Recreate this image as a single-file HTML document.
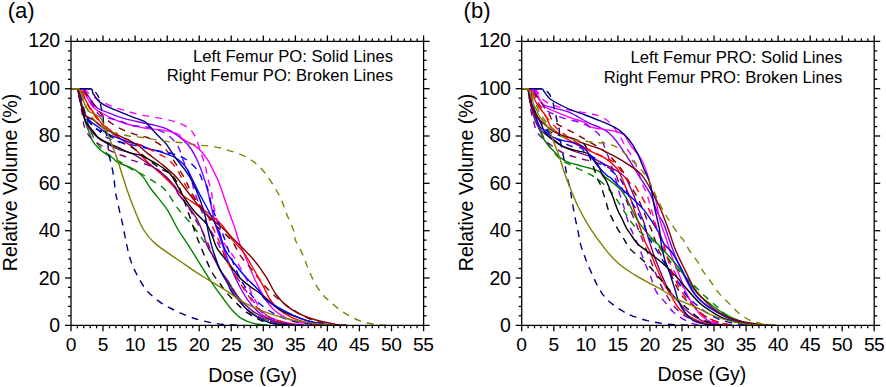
<!DOCTYPE html>
<html><head><meta charset="utf-8"><style>
html,body{margin:0;padding:0;background:#fff;width:886px;height:387px;overflow:hidden}
svg{display:block}
.t{font-family:"Liberation Sans", sans-serif;font-size:19.5px;fill:#000}
.n{font-family:"Liberation Sans", sans-serif;font-size:19.2px;fill:#000;letter-spacing:-0.6px}
.ny{font-family:"Liberation Sans", sans-serif;font-size:19.5px;fill:#000;letter-spacing:-0.35px}
.yl{font-family:"Liberation Sans", sans-serif;font-size:19.6px;fill:#000}
.p{font-family:"Liberation Sans", sans-serif;font-size:22px;fill:#000}
.s{font-family:"Liberation Sans", sans-serif;font-size:16.5px;fill:#000}
</style></head><body>
<svg width="886" height="387" viewBox="0 0 886 387">
<text x="7.8" y="18" class="p">(a)</text>
<text x="463.6" y="18" class="p">(b)</text>
<text x="16.5" y="182.5" class="yl" text-anchor="middle" transform="rotate(-90 16.5 182.5)">Relative Volume (%)</text>
<text x="472.6" y="182.5" class="yl" text-anchor="middle" transform="rotate(-90 472.6 182.5)">Relative Volume (%)</text>
<path d="M71.0,88.7 C73.0,88.7 80.3,88.7 83.2,88.7 C86.1,89.4 86.3,91.4 88.3,93.0 C90.3,94.6 92.9,96.6 95.4,98.2 C97.9,99.7 100.6,100.9 103.3,102.2 C106.0,103.5 108.0,104.9 111.4,106.2 C114.8,107.6 119.1,108.9 123.6,110.2 C128.0,111.6 133.1,113.1 138.3,114.3 C143.5,115.5 149.1,116.2 155.0,117.3 C160.8,118.5 167.9,119.5 173.2,121.1 C178.6,122.7 183.4,124.6 187.0,127.0 C190.6,129.4 192.5,131.5 194.7,135.6 C197.0,139.6 198.7,146.0 200.5,151.2 C202.2,156.3 204.0,161.5 205.3,166.3 C206.6,171.1 207.2,176.1 208.2,180.0 C209.2,184.0 210.6,186.7 211.4,190.2 C212.1,193.7 211.6,195.5 212.7,201.1 C213.7,206.7 216.3,217.7 217.8,224.0 C219.3,230.4 220.1,235.1 221.6,238.9 C223.1,242.8 224.4,243.8 226.8,247.2 C229.1,250.7 232.4,254.4 235.7,259.8 C239.0,265.2 243.9,273.8 246.6,279.6 C249.4,285.5 249.6,289.3 252.4,294.8 C255.2,300.2 259.0,308.0 263.3,312.3 C267.6,316.6 272.7,318.6 278.0,320.6 C283.4,322.5 289.3,323.3 295.4,324.1 C301.4,324.9 311.4,325.1 314.6,325.3" fill="none" stroke="#ff00ff" stroke-width="1.4" stroke-dasharray="7,6"/>
<path d="M71.0,88.7 C72.9,88.8 79.3,88.7 82.2,89.0 C85.0,90.2 86.3,93.4 88.3,96.1 C90.3,98.7 92.1,102.8 94.1,105.0 C96.0,107.3 97.7,108.3 100.0,109.5 C102.3,110.8 104.0,111.2 107.9,112.6 C111.9,114.1 117.8,116.6 123.7,118.3 C129.6,120.0 138.2,121.8 143.4,123.0 C148.7,124.2 151.3,124.4 155.3,125.4 C159.2,126.4 163.4,127.4 167.2,129.2 C170.9,130.9 175.1,133.9 178.0,136.0 C181.0,138.2 182.9,139.7 185.1,141.9 C187.3,144.2 189.4,146.2 191.5,149.5 C193.6,152.8 195.9,157.2 197.9,161.8 C199.9,166.4 202.1,172.2 203.7,177.0 C205.3,181.7 206.3,185.2 207.5,190.2 C208.8,195.2 210.0,201.1 211.4,207.0 C212.8,213.0 214.2,220.0 215.9,225.9 C217.6,231.8 219.4,236.2 221.6,242.5 C223.9,248.8 226.7,257.1 229.3,263.8 C232.0,270.5 234.7,276.8 237.7,282.7 C240.7,288.6 243.5,294.1 247.3,299.3 C251.0,304.4 255.3,309.7 260.1,313.5 C264.9,317.2 270.2,319.8 276.1,321.8 C282.0,323.7 292.1,324.7 295.4,325.3" fill="none" stroke="#8000ff" stroke-width="1.4"/>
<path d="M71.0,88.7 C72.7,88.7 78.7,88.7 81.3,88.7 C83.8,89.9 84.7,93.3 86.4,96.1 C88.1,98.8 89.7,102.6 91.5,105.0 C93.3,107.4 95.5,109.1 97.3,110.5 C99.1,111.9 100.0,112.0 102.4,113.3 C104.8,114.6 108.3,116.7 111.8,118.3 C115.4,119.9 119.7,121.7 123.7,123.0 C127.6,124.3 131.5,125.2 135.5,126.1 C139.4,127.0 142.9,127.8 147.4,128.5 C151.9,129.1 157.6,129.2 162.7,130.1 C167.8,131.1 174.7,132.7 178.0,134.1 C181.4,135.6 179.2,136.5 182.5,138.9 C185.8,141.2 193.9,144.8 197.9,148.1 C202.0,151.4 204.4,155.2 206.9,158.7 C209.3,162.3 210.6,165.3 212.7,169.4 C214.7,173.5 216.5,176.5 219.1,183.1 C221.6,189.7 225.5,201.6 228.0,208.9 C230.6,216.2 232.4,221.1 234.5,227.1 C236.5,233.1 238.2,239.4 240.2,244.9 C242.3,250.3 244.3,254.2 246.6,259.8 C249.0,265.3 251.8,272.6 254.3,278.2 C256.9,283.8 259.5,288.9 262.0,293.4 C264.6,297.9 267.0,301.9 269.7,305.2 C272.4,308.5 274.3,310.7 278.0,313.2 C281.8,315.8 287.3,318.9 292.1,320.6 C297.0,322.3 301.0,322.6 306.9,323.4 C312.8,324.2 324.0,325.0 327.4,325.3" fill="none" stroke="#ff00ff" stroke-width="1.4"/>
<path d="M71.0,88.7 C72.9,88.7 79.5,88.7 82.5,88.7 C85.5,90.3 86.8,94.6 88.9,98.2 C91.1,101.7 93.3,107.0 95.4,110.0 C97.5,113.0 98.5,114.9 101.5,116.4 C104.5,117.9 109.6,118.3 113.3,119.2 C117.0,120.2 120.5,121.2 123.6,122.3 C126.7,123.4 127.9,124.8 131.9,125.6 C135.8,126.4 142.2,126.0 147.3,127.0 C152.4,128.1 159.0,130.3 162.7,131.8 C166.3,133.3 166.5,133.6 169.1,136.0 C171.6,138.5 175.6,142.1 178.0,146.4 C180.5,150.7 181.8,157.0 183.8,161.8 C185.8,166.7 188.5,170.8 190.2,175.5 C191.9,180.3 192.8,186.0 194.1,190.2 C195.4,194.5 195.8,195.5 197.9,201.1 C200.1,206.7 203.9,217.7 206.9,224.0 C209.9,230.4 213.1,234.1 215.9,239.2 C218.6,244.2 220.8,249.1 223.6,254.3 C226.3,259.5 228.7,264.2 232.5,270.4 C236.4,276.6 241.5,284.5 246.6,291.7 C251.8,298.9 258.1,308.7 263.3,313.5 C268.5,318.3 272.7,318.6 278.0,320.6 C283.4,322.5 292.5,324.5 295.4,325.3" fill="none" stroke="#8000ff" stroke-width="1.4" stroke-dasharray="7,6"/>
<path d="M71.0,88.7 C72.6,88.7 78.6,88.7 80.6,88.7 C82.6,89.1 81.9,89.7 83.2,91.1 C84.5,92.5 86.6,95.0 88.3,97.0 C90.0,99.0 91.6,100.9 93.2,103.1 C94.9,105.4 96.6,108.1 98.3,110.2 C100.0,112.4 101.1,114.0 103.3,116.2 C105.5,118.3 108.0,120.9 111.4,123.3 C114.8,125.6 118.8,128.0 123.6,130.1 C128.4,132.2 136.3,134.8 140.2,136.0 C144.2,137.3 143.5,136.0 147.3,137.5 C151.0,139.2 158.8,143.4 162.7,146.4 C166.5,149.5 167.6,151.8 170.4,155.7 C173.1,159.5 176.6,164.8 179.3,169.4 C182.1,174.0 185.2,179.6 187.0,183.1 C188.8,186.6 188.4,187.2 190.2,190.4 C192.0,193.7 195.1,198.7 197.9,202.7 C200.7,206.8 203.9,211.0 206.9,214.8 C209.9,218.6 211.8,221.2 215.9,225.5 C219.9,229.7 227.2,235.2 231.2,240.1 C235.3,245.1 236.7,250.2 240.2,255.3 C243.7,260.3 248.3,265.3 252.4,270.4 C256.5,275.5 260.3,281.1 264.6,285.8 C268.9,290.5 273.9,295.2 278.0,298.8 C282.2,302.4 285.7,304.7 289.6,307.3 C293.4,310.0 297.1,312.4 301.1,314.7 C305.2,316.9 309.3,319.0 313.9,320.6 C318.5,322.1 323.2,323.3 328.7,324.1 C334.1,324.9 343.6,325.1 346.6,325.3" fill="none" stroke="#800000" stroke-width="1.4" stroke-dasharray="7,6"/>
<path d="M71.0,88.7 C72.4,88.7 77.3,88.7 79.3,88.7 C81.4,89.8 81.7,92.4 83.2,95.1 C84.7,97.8 86.6,102.2 88.3,105.0 C90.0,107.9 91.6,109.8 93.2,112.1 C94.9,114.5 96.7,117.0 98.3,119.2 C99.9,121.4 101.7,124.1 103.0,125.4 C104.4,126.7 104.5,125.8 106.3,127.0 C108.0,128.3 110.4,130.6 113.3,133.0 C116.2,135.3 120.1,138.5 123.6,141.0 C127.0,143.5 129.9,144.6 133.8,148.1 C137.8,151.6 142.5,157.2 147.3,161.8 C152.1,166.4 158.1,171.2 162.7,175.5 C167.3,179.8 171.5,184.3 174.8,187.6 C178.2,190.9 178.7,192.1 182.5,195.2 C186.4,198.2 192.9,202.3 197.9,205.8 C202.9,209.4 208.6,213.2 212.7,216.5 C216.7,219.7 219.0,221.5 222.3,225.5 C225.6,229.4 229.0,235.7 232.5,240.1 C236.1,244.6 239.8,247.1 243.4,252.2 C247.1,257.2 250.8,264.3 254.3,270.4 C257.9,276.5 262.0,283.9 264.6,288.6 C267.1,293.4 267.5,295.7 269.7,299.0 C272.0,302.4 274.3,305.6 278.0,308.7 C281.8,311.9 287.3,315.4 292.1,317.7 C297.0,320.1 302.1,321.5 306.9,322.7 C311.7,323.9 316.5,324.4 321.0,324.8 C325.5,325.3 331.7,325.2 333.8,325.3" fill="none" stroke="#ff0000" stroke-width="1.4"/>
<path d="M71.0,88.7 C72.1,88.7 75.8,88.7 77.4,88.7 C79.0,90.3 79.3,92.8 80.6,98.2 C81.9,103.5 83.8,115.6 85.1,120.9 C86.4,126.2 87.1,126.9 88.3,130.1 C89.5,133.3 90.5,137.1 92.2,140.1 C93.8,143.1 96.0,145.7 98.3,148.1 C100.7,150.5 103.8,152.6 106.3,154.3 C108.8,155.9 111.6,157.0 113.3,158.3 C115.1,159.5 114.1,160.4 116.8,161.8 C119.4,163.3 125.7,165.5 129.0,167.0 C132.3,168.5 134.0,169.1 136.4,170.8 C138.8,172.5 140.9,174.2 143.4,177.4 C146.0,180.6 147.9,184.8 151.8,190.0 C155.6,195.2 162.1,202.1 166.5,208.7 C170.9,215.2 174.1,222.9 178.0,229.5 C182.0,236.1 184.9,239.7 190.2,248.2 C195.6,256.6 204.5,271.6 210.1,280.1 C215.7,288.6 219.8,294.0 223.6,299.0 C227.3,304.1 229.4,307.1 232.5,310.4 C235.6,313.7 238.6,316.7 242.1,318.9 C245.7,321.1 249.3,322.3 253.7,323.4 C258.1,324.5 266.0,325.0 268.4,325.3" fill="none" stroke="#008000" stroke-width="1.4"/>
<path d="M71.0,88.7 C72.3,88.7 76.6,88.7 78.7,88.7 C80.8,91.9 82.1,101.3 83.8,107.6 C85.5,114.0 87.0,121.0 88.9,126.6 C90.9,132.1 93.0,136.8 95.4,140.8 C97.7,144.7 100.2,147.5 103.0,150.2 C105.9,153.0 109.5,155.2 112.7,157.3 C115.9,159.5 119.1,161.2 122.3,163.2 C125.5,165.3 128.3,167.3 131.9,169.4 C135.5,171.4 140.0,173.3 144.1,175.5 C148.1,177.8 152.7,180.7 156.3,183.1 C159.8,185.5 161.6,185.7 165.2,190.0 C168.9,194.2 173.6,202.8 178.0,208.7 C182.5,214.5 188.4,220.4 192.1,225.0 C195.9,229.6 197.1,231.3 200.5,236.3 C203.9,241.4 209.3,249.6 212.7,255.3 C216.0,260.9 217.8,266.1 220.4,270.4 C222.9,274.7 225.5,277.2 228.0,281.1 C230.6,284.9 233.1,289.1 235.7,293.4 C238.4,297.6 240.5,302.6 244.1,306.4 C247.6,310.1 251.5,313.1 256.9,315.8 C262.2,318.6 269.7,321.4 276.1,322.9 C282.5,324.5 292.1,324.9 295.4,325.3" fill="none" stroke="#008000" stroke-width="1.4" stroke-dasharray="7,6"/>
<path d="M71.0,88.7 C72.0,88.7 75.1,88.7 76.8,88.7 C78.5,91.4 79.9,99.8 81.3,105.0 C82.6,110.2 83.8,116.1 85.1,119.9 C86.4,123.8 86.7,125.0 88.9,128.0 C91.1,131.0 95.1,135.5 98.3,138.2 C101.5,140.8 104.8,142.2 108.2,144.1 C111.5,145.9 114.2,147.6 118.4,149.3 C122.7,151.0 129.0,151.9 133.8,154.3 C138.6,156.6 142.5,160.0 147.3,163.2 C152.1,166.5 158.1,170.1 162.7,173.9 C167.3,177.7 172.3,182.9 174.8,186.2 C177.4,189.5 175.5,189.7 178.0,193.5 C180.6,197.3 186.9,204.3 190.2,208.9 C193.5,213.5 195.7,216.7 197.9,221.0 C200.2,225.3 202.2,230.7 203.7,234.7 C205.2,238.7 205.4,241.4 206.9,244.9 C208.4,248.3 210.4,251.0 212.7,255.3 C214.9,259.5 217.8,266.1 220.4,270.4 C222.9,274.7 226.0,277.8 228.0,281.1 C230.1,284.3 230.2,286.6 232.5,290.0 C234.9,293.5 238.6,298.0 242.1,301.6 C245.7,305.3 249.3,308.9 253.7,311.8 C258.1,314.7 262.3,317.1 268.4,319.1 C274.5,321.2 283.6,323.1 290.2,324.1 C296.8,325.1 305.2,325.1 308.2,325.3" fill="none" stroke="#800080" stroke-width="1.4"/>
<path d="M71.0,88.7 C72.0,88.7 75.2,88.7 76.8,88.7 C78.4,91.5 79.5,100.1 80.6,105.3 C81.7,110.5 82.6,116.5 83.2,119.9 C83.8,123.4 83.0,123.2 84.1,126.1 C85.3,129.0 87.2,133.9 90.2,137.2 C93.3,140.6 98.5,143.7 102.4,146.2 C106.4,148.7 109.9,150.5 113.9,152.4 C118.0,154.2 123.8,156.0 126.8,157.3 C129.8,158.6 128.5,158.9 131.9,160.2 C135.3,161.4 142.7,163.1 147.3,164.9 C151.9,166.7 155.6,168.1 159.5,170.8 C163.3,173.6 165.5,175.4 170.4,181.5 C175.2,187.5 183.7,200.1 188.3,207.2 C192.9,214.3 195.0,219.0 197.9,224.0 C200.8,229.1 203.2,232.6 205.6,237.8 C208.1,243.0 210.2,249.8 212.7,255.3 C215.1,260.7 217.8,266.1 220.4,270.4 C222.9,274.7 225.5,277.2 228.0,281.1 C230.6,284.9 233.1,289.1 235.7,293.4 C238.4,297.6 240.5,302.6 244.1,306.4 C247.6,310.1 251.5,313.1 256.9,315.8 C262.2,318.6 269.7,321.4 276.1,322.9 C282.5,324.5 292.1,324.9 295.4,325.3" fill="none" stroke="#800080" stroke-width="1.4" stroke-dasharray="7,6"/>
<path d="M71.0,88.7 C72.2,88.7 76.3,88.7 78.1,88.7 C79.8,91.5 80.0,100.0 81.3,105.3 C82.5,110.6 83.5,116.6 85.3,120.7 C87.1,124.7 89.7,126.8 91.8,129.6 C94.0,132.4 95.7,135.3 98.3,137.5 C100.9,139.6 103.9,140.9 107.3,142.7 C110.7,144.4 115.3,146.2 118.9,147.9 C122.4,149.5 125.0,151.1 128.6,152.4 C132.1,153.6 137.1,154.1 140.2,155.2 C143.3,156.3 144.4,157.2 147.3,158.7 C150.2,160.3 153.9,162.1 157.5,164.4 C161.2,166.7 165.9,169.4 169.1,172.7 C172.3,176.1 174.3,180.5 176.8,184.5 C179.2,188.6 180.8,192.3 183.8,196.8 C186.8,201.4 191.0,207.2 194.7,211.7 C198.5,216.2 203.4,219.9 206.3,223.8 C209.1,227.7 210.2,231.3 212.0,235.4 C213.8,239.5 214.5,243.9 217.1,248.4 C219.8,252.9 224.2,257.6 228.0,262.6 C231.9,267.6 236.4,274.1 240.2,278.2 C244.1,282.3 247.5,284.4 251.1,287.2 C254.8,290.0 257.5,291.2 262.0,294.8 C266.5,298.4 273.0,305.3 278.0,308.7 C283.1,312.2 287.3,313.4 292.1,315.4 C297.0,317.3 302.1,319.1 306.9,320.6 C311.7,322.0 316.5,323.3 321.0,324.1 C325.5,324.9 331.7,325.1 333.8,325.3" fill="none" stroke="#000000" stroke-width="1.4"/>
<path d="M71.0,88.7 C72.2,88.7 76.3,88.7 78.1,88.7 C79.8,91.1 79.8,98.2 81.3,102.9 C82.8,107.6 85.0,113.2 87.0,117.1 C89.1,121.0 91.6,124.4 93.4,126.6 C95.3,128.7 96.7,129.2 98.3,130.1 C100.0,131.0 100.4,130.4 103.3,132.0 C106.2,133.6 110.7,136.7 115.9,139.6 C121.1,142.4 129.2,145.9 134.5,149.0 C139.7,152.2 143.1,155.6 147.3,158.7 C151.4,161.9 155.6,165.4 159.5,168.0 C163.3,170.5 167.3,171.1 170.4,173.9 C173.5,176.6 175.4,179.0 178.0,184.5 C180.7,190.1 183.4,198.6 186.4,207.0 C189.4,215.4 193.6,228.2 196.0,234.7 C198.3,241.2 198.7,241.6 200.5,246.0 C202.3,250.5 204.9,256.8 206.9,261.4 C208.9,266.0 210.4,269.7 212.7,273.5 C214.9,277.3 218.0,280.9 220.4,284.1 C222.7,287.4 224.1,289.7 226.8,292.9 C229.4,296.0 232.9,299.7 236.4,303.1 C239.9,306.5 243.7,310.3 247.9,313.2 C252.1,316.2 256.8,318.8 261.4,320.6 C266.0,322.4 270.9,323.3 275.5,324.1 C280.1,324.9 286.7,325.1 288.9,325.3" fill="none" stroke="#000000" stroke-width="1.4" stroke-dasharray="7,6"/>
<path d="M71.0,88.7 C72.1,88.7 76.1,88.7 77.4,88.7 C78.8,89.8 78.2,91.5 79.1,95.1 C80.1,98.7 81.5,106.1 83.2,110.2 C84.8,114.4 86.4,117.1 88.9,119.9 C91.5,122.7 95.1,124.7 98.3,127.0 C101.5,129.4 104.8,132.3 108.2,134.1 C111.5,136.0 115.0,136.8 118.4,138.2 C121.8,139.5 124.9,141.0 128.6,142.2 C132.2,143.3 137.1,144.0 140.2,145.0 C143.3,146.0 143.5,146.8 147.3,148.1 C151.0,149.4 158.1,151.1 162.7,152.6 C167.3,154.1 171.5,155.6 174.8,157.3 C178.2,159.1 180.4,161.1 182.5,163.2 C184.7,165.4 185.1,165.5 187.7,170.1 C190.2,174.7 194.4,183.8 197.9,190.7 C201.4,197.5 205.3,204.4 208.8,211.3 C212.3,218.2 216.3,225.6 219.1,232.1 C221.8,238.6 222.4,244.6 225.2,250.1 C227.9,255.5 232.2,260.3 235.7,265.0 C239.3,269.7 242.8,274.0 246.6,278.2 C250.5,282.4 255.8,286.8 258.8,290.3 C261.8,293.8 261.4,296.2 264.6,299.0 C267.8,301.9 273.4,304.7 278.0,307.3 C282.6,309.9 287.3,312.4 292.1,314.7 C297.0,316.9 300.8,318.9 306.9,320.6 C313.0,322.2 323.1,323.8 328.7,324.6 C334.2,325.3 338.3,325.2 340.2,325.3" fill="none" stroke="#0000ff" stroke-width="1.4"/>
<path d="M71.0,88.7 C72.3,88.7 76.8,88.7 78.7,88.7 C80.6,91.9 80.9,102.3 82.5,107.6 C84.1,113.0 85.7,117.1 88.3,120.9 C90.9,124.6 95.8,127.8 98.3,130.1 C100.8,132.5 101.3,133.6 103.3,135.1 C105.3,136.6 106.7,137.8 110.1,139.1 C113.5,140.4 118.9,141.9 123.6,143.1 C128.3,144.3 132.3,144.9 138.3,146.2 C144.3,147.5 153.4,149.8 159.5,151.2 C165.5,152.5 170.2,152.8 174.8,154.3 C179.4,155.7 183.2,157.4 187.0,160.2 C190.9,162.9 195.1,167.0 197.9,170.8 C200.7,174.6 202.2,180.6 203.7,183.1 C205.2,185.6 205.4,183.1 206.9,186.0 C208.4,190.3 210.6,202.6 212.7,208.9 C214.7,215.2 217.3,219.5 219.1,224.0 C220.9,228.6 221.7,231.3 223.6,236.3 C225.4,241.4 227.6,248.2 230.0,254.3 C232.3,260.5 234.8,267.3 237.7,273.3 C240.5,279.2 243.5,284.7 247.3,289.8 C251.0,294.9 255.3,299.9 260.1,304.0 C264.9,308.1 270.2,311.7 276.1,314.7 C282.0,317.6 287.9,320.0 295.4,321.8 C302.8,323.5 316.7,324.7 321.0,325.3" fill="none" stroke="#0000ff" stroke-width="1.4" stroke-dasharray="7,6"/>
<path d="M71.0,88.7 C72.6,88.7 78.2,88.7 80.6,88.7 C83.1,90.7 83.8,96.6 85.7,100.5 C87.7,104.5 89.8,108.8 92.2,112.4 C94.5,115.9 97.0,118.7 99.8,121.8 C102.7,125.0 106.6,128.9 109.5,131.3 C112.3,133.7 113.6,134.6 116.8,136.0 C120.0,137.5 126.0,139.1 128.6,140.1 C131.1,141.0 128.8,140.6 131.9,141.9 C135.0,143.3 142.7,146.0 147.3,148.1 C151.9,150.1 156.1,152.5 159.5,154.3 C162.8,156.0 164.4,156.5 167.2,158.7 C169.9,161.0 173.3,164.1 176.1,168.0 C178.9,171.9 181.0,177.2 183.8,182.2 C186.6,187.1 189.2,192.6 192.8,197.5 C196.4,202.5 202.3,206.8 205.6,211.7 C208.9,216.7 210.4,222.2 212.7,227.1 C214.9,232.0 216.5,235.4 219.1,241.3 C221.6,247.3 224.7,256.2 228.0,262.8 C231.4,269.5 235.3,275.2 238.9,281.1 C242.6,286.9 245.8,292.5 249.8,297.9 C253.9,303.3 257.9,309.5 263.3,313.5 C268.7,317.5 276.1,319.8 282.5,321.8 C288.9,323.7 298.6,324.7 301.8,325.3" fill="none" stroke="#ff0000" stroke-width="1.4" stroke-dasharray="7,6"/>
<path d="M71.0,88.7 C72.1,88.7 75.7,88.7 77.4,88.7 C79.1,91.4 80.0,100.6 81.3,105.0 C82.5,109.5 83.1,112.7 85.1,115.2 C87.1,117.7 90.4,117.8 93.4,119.9 C96.5,122.1 100.0,125.8 103.3,128.0 C106.6,130.2 109.1,130.9 113.3,133.0 C117.5,135.0 124.4,138.0 128.6,140.1 C132.7,142.1 135.2,143.3 138.3,145.5 C141.4,147.7 143.2,149.8 147.3,153.1 C151.3,156.3 157.9,160.9 162.7,164.9 C167.5,168.9 172.3,172.9 176.1,177.0 C180.0,181.0 181.1,183.5 185.7,189.3 C190.3,195.1 198.3,205.9 203.7,211.7 C209.0,217.5 213.7,220.5 217.8,224.0 C221.8,227.6 225.3,230.6 228.0,233.3 C230.8,236.0 230.4,236.0 234.5,240.1 C238.5,244.3 247.2,252.3 252.4,258.3 C257.6,264.4 261.9,270.5 265.9,276.6 C269.8,282.6 272.3,289.4 276.1,294.5 C280.0,299.7 283.4,303.7 288.9,307.6 C294.5,311.5 301.7,315.2 309.5,318.0 C317.3,320.8 329.5,323.1 335.7,324.4 C341.9,325.3 344.8,325.1 346.6,325.3" fill="none" stroke="#800000" stroke-width="1.4"/>
<path d="M71.0,88.7 C74.2,88.7 86.6,88.7 90.2,88.7 C93.9,89.4 91.8,91.5 92.8,93.0 C93.8,94.5 94.8,96.1 96.0,97.7 C97.2,99.3 98.1,100.9 100.0,102.4 C101.9,103.9 104.9,105.4 107.5,106.7 C110.2,108.0 111.8,108.6 115.8,110.2 C119.8,111.9 127.0,114.9 131.6,116.6 C136.2,118.4 140.8,119.7 143.4,120.9 C146.1,122.1 145.8,122.4 147.3,123.7 C148.7,125.1 150.3,127.2 152.1,129.2 C153.9,131.2 155.9,133.4 158.2,135.8 C160.5,138.2 162.9,139.8 165.9,143.6 C168.9,147.4 172.8,154.2 176.1,158.7 C179.4,163.3 182.9,166.7 185.7,170.8 C188.6,174.9 190.7,178.1 193.1,183.1 C195.6,188.2 198.5,195.5 200.5,201.1 C202.5,206.7 204.0,211.4 205.3,216.5 C206.6,221.6 207.2,226.9 208.2,231.6 C209.2,236.3 210.3,240.9 211.4,244.9 C212.4,248.8 213.1,251.0 214.6,255.3 C216.1,259.5 218.1,265.6 220.4,270.4 C222.6,275.2 226.3,280.9 228.0,284.1 C229.8,287.4 228.7,287.1 230.6,290.0 C232.5,293.0 236.2,297.8 239.6,301.6 C243.0,305.5 246.7,310.0 251.1,313.2 C255.5,316.5 260.5,319.3 265.9,321.3 C271.2,323.2 277.2,324.2 283.2,324.8 C289.2,325.3 298.7,325.2 301.8,325.3" fill="none" stroke="#000080" stroke-width="1.4"/>
<path d="M71.0,88.7 C74.4,88.7 87.5,88.7 91.5,88.7 C95.6,89.3 94.1,90.5 95.4,92.0 C96.6,93.6 98.2,95.7 99.2,98.2 C100.2,100.7 100.5,104.3 101.1,107.2 C101.7,110.0 102.4,112.4 102.9,115.2 C103.3,118.0 103.3,121.5 103.7,124.0 C104.1,126.5 104.7,127.4 105.4,130.1 C106.0,132.8 107.0,135.9 107.5,140.1 C108.1,144.2 108.3,151.3 108.8,155.0 C109.4,158.6 109.9,158.2 110.7,161.8 C111.6,165.5 113.0,172.2 113.8,177.0 C114.5,181.7 114.7,186.6 115.2,190.2 C115.7,193.8 116.0,194.9 116.8,198.7 C117.6,202.6 119.1,209.0 120.1,213.4 C121.1,217.8 121.7,219.8 122.8,225.0 C123.9,230.2 125.3,238.6 126.6,244.4 C127.9,250.2 128.9,255.2 130.5,260.0 C132.1,264.9 134.1,269.0 136.3,273.5 C138.6,278.0 141.5,283.3 144.1,287.0 C146.6,290.6 149.0,292.9 151.8,295.5 C154.5,298.1 157.5,300.4 160.7,302.6 C163.9,304.8 165.7,305.9 171.0,308.5 C176.3,311.1 185.2,315.4 192.8,318.0 C200.4,320.5 209.0,322.4 216.5,323.6 C224.0,324.9 234.1,325.0 237.7,325.3" fill="none" stroke="#000080" stroke-width="1.4" stroke-dasharray="7,6"/>
<path d="M71.0,88.7 C72.4,88.7 77.2,88.7 79.3,88.7 C81.5,90.7 82.0,96.2 83.8,100.5 C85.6,104.9 87.8,110.8 90.2,114.7 C92.7,118.7 95.4,121.2 98.6,124.2 C101.7,127.2 106.4,131.3 109.1,132.7 C111.9,133.0 112.0,132.7 115.2,133.0 C118.5,133.5 124.4,135.3 128.6,136.0 C132.7,136.7 135.8,136.6 140.2,137.2 C144.6,137.8 149.9,138.8 155.0,139.6 C160.0,140.4 165.8,141.4 170.4,141.9 C174.9,142.5 177.9,142.1 182.5,142.7 C187.1,143.2 192.9,144.4 197.9,145.0 C202.9,145.7 207.6,145.6 212.7,146.4 C217.7,147.3 222.9,148.7 228.0,150.2 C233.2,151.8 238.8,153.5 243.4,155.7 C248.0,157.8 252.1,160.4 255.6,163.2 C259.1,166.0 261.5,168.6 264.6,172.5 C267.7,176.4 271.3,181.9 274.2,186.7 C277.1,191.4 279.6,196.1 281.9,201.1 C284.1,206.1 285.6,211.4 287.7,216.5 C289.7,221.6 292.8,227.7 294.1,231.6 C295.3,235.6 293.9,236.2 295.4,240.1 C296.8,244.1 300.8,250.2 303.0,255.3 C305.3,260.3 306.6,265.3 308.8,270.4 C311.1,275.5 314.0,281.6 316.5,285.8 C319.0,290.0 321.5,293.3 323.6,295.7 C325.6,298.1 326.2,298.1 328.7,300.2 C331.1,302.4 334.8,306.1 338.3,308.7 C341.8,311.4 346.0,314.0 349.8,316.1 C353.7,318.2 357.0,319.9 361.4,321.3 C365.8,322.7 371.9,323.9 376.1,324.6 C380.3,325.3 384.7,325.2 386.4,325.3" fill="none" stroke="#808000" stroke-width="1.4" stroke-dasharray="7,6"/>
<path d="M71.0,88.7 C72.3,88.7 77.0,88.7 78.7,88.7 C80.4,89.7 80.5,92.7 81.3,94.6 C82.0,96.5 82.3,97.8 83.2,100.1 C84.0,102.3 85.2,106.1 86.4,108.1 C87.6,110.1 88.5,111.0 90.2,112.1 C91.9,113.3 94.8,114.2 96.6,115.2 C98.5,116.2 100.0,116.8 101.1,118.3 C102.2,119.7 102.5,122.0 103.3,124.0 C104.2,125.9 105.1,127.4 106.3,130.1 C107.4,132.8 108.8,136.7 110.1,140.1 C111.4,143.4 112.8,147.1 113.9,150.2 C115.1,153.3 115.7,154.3 117.2,158.7 C118.6,163.2 121.3,171.8 122.9,177.0 C124.6,182.2 125.2,184.7 127.1,190.0 C128.9,195.3 131.4,202.1 134.1,208.7 C136.8,215.2 140.0,223.7 143.4,229.5 C146.9,235.3 149.2,238.4 155.0,243.4 C160.7,248.5 171.2,255.0 178.0,259.8 C184.9,264.5 190.9,268.7 196.0,272.1 C201.1,275.5 203.5,276.8 208.8,280.1 C214.2,283.4 222.9,288.4 228.0,291.7 C233.2,295.1 235.3,297.6 239.6,300.2 C243.9,302.8 248.9,305.2 253.7,307.3 C258.5,309.5 263.5,311.5 268.4,313.2 C273.3,315.0 278.7,316.5 283.2,317.7 C287.7,319.0 290.2,319.6 295.4,320.6 C300.5,321.5 307.2,322.6 313.9,323.4 C320.7,324.2 332.1,325.0 335.7,325.3" fill="none" stroke="#808000" stroke-width="1.4"/>
<path d="M521.7,88.7 C523.7,88.7 531.2,88.7 533.9,88.7 C536.5,89.3 536.2,90.5 537.7,92.3 C539.2,94.0 540.7,97.4 542.9,99.4 C545.0,101.3 547.4,102.7 550.5,104.1 C553.6,105.5 557.7,106.8 561.4,107.9 C565.2,109.0 568.2,109.8 573.0,110.7 C577.8,111.7 585.7,112.7 590.1,113.6 C594.5,114.5 596.3,115.0 599.3,116.2 C602.2,117.3 605.4,119.0 607.6,120.7 C609.8,122.3 610.8,123.5 612.7,125.9 C614.6,128.2 617.0,131.4 619.1,134.9 C621.3,138.3 623.2,142.5 625.5,146.4 C627.9,150.4 631.1,154.6 633.2,158.7 C635.4,162.9 637.0,167.6 638.4,171.5 C639.8,175.5 640.3,179.0 641.6,182.4 C642.8,185.8 644.9,189.2 646.1,192.1 C647.2,195.0 647.8,197.2 648.6,199.9 C649.5,202.7 650.2,205.2 651.2,208.7 C652.1,212.1 653.2,216.6 654.4,220.5 C655.6,224.4 656.9,228.1 658.2,232.1 C659.6,236.1 660.7,240.0 662.4,244.6 C664.1,249.2 666.2,254.7 668.5,259.8 C670.8,264.9 673.6,270.3 676.2,275.1 C678.7,280.0 681.6,284.8 683.9,288.9 C686.1,292.9 687.6,296.0 689.6,299.3 C691.7,302.6 693.6,305.8 696.1,308.7 C698.5,311.7 700.9,314.7 704.4,317.0 C707.9,319.4 712.4,321.6 717.2,322.9 C722.0,324.3 730.6,324.9 733.2,325.3" fill="none" stroke="#ff00ff" stroke-width="1.4" stroke-dasharray="7,6"/>
<path d="M521.7,88.7 C523.7,89.1 531.0,89.3 533.9,91.1 C536.8,92.8 537.3,96.8 539.0,99.1 C540.7,101.5 541.6,103.5 544.1,105.0 C546.7,106.5 550.2,106.9 554.3,108.1 C558.5,109.3 564.4,110.2 569.1,112.1 C573.8,114.0 579.1,117.5 582.6,119.5 C586.1,121.4 587.1,122.4 590.1,123.7 C593.1,125.1 597.4,126.2 600.5,127.8 C603.7,129.3 606.4,130.9 608.9,133.0 C611.3,135.0 613.7,138.0 615.3,139.8 C616.8,141.6 616.5,141.2 618.2,143.6 C619.9,146.0 623.0,150.5 625.5,154.3 C628.1,158.0 630.8,162.4 633.2,166.3 C635.7,170.3 638.1,174.5 640.3,177.9 C642.4,181.3 644.2,183.9 646.1,186.9 C647.9,189.9 649.8,192.7 651.2,195.7 C652.6,198.6 653.2,201.3 654.4,204.4 C655.6,207.5 656.7,211.0 658.2,214.1 C659.7,217.2 661.8,219.5 663.4,223.1 C665.0,226.6 666.6,231.8 667.8,235.4 C669.1,239.0 669.7,241.0 671.1,244.9 C672.4,248.7 674.0,253.3 676.2,258.3 C678.3,263.4 681.2,269.7 683.9,275.1 C686.5,280.6 689.2,286.6 692.2,291.0 C695.2,295.4 697.8,298.2 701.8,301.6 C705.9,305.1 711.6,308.9 716.6,311.8 C721.5,314.7 726.4,317.2 731.3,319.1 C736.2,321.1 741.5,322.4 746.1,323.4 C750.6,324.4 756.7,325.0 758.9,325.3" fill="none" stroke="#8000ff" stroke-width="1.4"/>
<path d="M521.7,88.7 C523.7,88.7 531.0,88.7 533.9,88.7 C536.8,90.3 537.3,95.3 539.0,98.2 C540.7,101.1 541.6,104.1 544.1,106.2 C546.7,108.4 550.2,109.3 554.3,111.2 C558.5,113.0 564.1,115.5 569.1,117.3 C574.2,119.2 581.0,120.7 584.5,122.3 C588.0,123.9 587.4,125.7 590.1,126.8 C592.8,127.9 597.1,128.3 600.5,128.9 C604.0,129.5 608.0,129.8 610.8,130.4 C613.6,130.9 615.0,131.2 617.2,132.0 C619.5,132.8 621.9,132.7 624.3,135.1 C626.6,137.5 628.5,142.5 631.3,146.4 C634.1,150.3 638.3,153.9 640.9,158.5 C643.6,163.1 645.6,169.0 647.3,173.9 C649.0,178.8 649.8,183.7 651.2,188.1 C652.6,192.4 654.5,195.9 655.7,199.9 C656.8,203.9 657.4,208.1 658.2,212.0 C659.1,215.8 659.6,219.0 660.8,223.1 C662.0,227.2 664.1,232.9 665.3,236.3 C666.5,239.8 666.7,240.3 667.8,243.9 C669.0,247.5 670.7,253.5 672.3,257.9 C673.9,262.3 675.4,265.2 677.5,270.4 C679.5,275.6 682.7,284.4 684.5,288.9 C686.3,293.4 686.7,294.3 688.4,297.4 C690.1,300.5 692.5,304.2 694.8,307.3 C697.0,310.4 698.9,313.5 701.8,316.1 C704.7,318.6 708.4,321.2 712.1,322.7 C715.7,324.2 721.7,324.9 723.6,325.3" fill="none" stroke="#ff00ff" stroke-width="1.4"/>
<path d="M521.7,88.7 C523.6,88.7 530.4,88.7 533.2,88.7 C536.1,91.3 536.3,100.2 539.0,104.1 C541.7,108.0 545.1,109.8 549.3,112.1 C553.4,114.5 559.0,116.6 564.0,118.3 C569.0,120.0 575.2,120.9 579.4,122.3 C583.6,123.7 586.3,125.1 589.0,126.6 C591.7,128.1 593.8,130.0 595.4,131.3 C597.0,132.6 597.6,132.7 598.6,134.1 C599.7,135.6 600.9,137.8 601.8,139.8 C602.8,141.9 603.0,142.8 604.4,146.4 C605.8,150.1 608.3,156.6 610.2,161.8 C612.0,167.1 613.9,173.2 615.3,177.9 C616.7,182.6 617.3,186.2 618.5,190.2 C619.7,194.2 621.2,198.1 622.3,201.8 C623.5,205.5 624.4,208.7 625.5,212.7 C626.7,216.7 628.3,222.9 629.4,225.9 C630.5,229.0 631.0,229.0 632.0,231.1 C632.9,233.3 634.2,236.8 635.2,238.9 C636.1,241.1 636.8,241.7 637.7,243.9 C638.7,246.1 639.6,248.8 640.9,252.2 C642.2,255.6 643.9,260.7 645.4,264.5 C647.0,268.3 648.4,270.6 650.2,275.1 C652.0,279.7 653.9,287.3 656.3,291.7 C658.7,296.1 661.9,298.3 664.6,301.6 C667.4,305.0 669.9,308.9 673.0,311.8 C676.1,314.7 679.6,317.1 683.2,319.1 C686.9,321.2 690.7,323.1 694.8,324.1 C698.8,325.1 705.5,325.1 707.6,325.3" fill="none" stroke="#8000ff" stroke-width="1.4" stroke-dasharray="7,6"/>
<path d="M521.7,88.7 C523.1,88.7 528.1,88.7 530.0,88.7 C532.0,89.4 531.7,91.2 533.2,93.0 C534.7,94.7 537.2,96.8 539.0,99.1 C540.8,101.5 542.4,104.6 544.1,107.2 C545.8,109.7 548.0,112.3 549.3,114.3 C550.5,116.3 550.1,117.3 551.8,119.2 C553.6,121.1 556.1,123.3 559.8,125.6 C563.6,128.0 569.7,130.7 574.3,133.2 C578.8,135.7 582.1,137.5 587.1,140.5 C592.1,143.5 599.5,147.4 604.4,151.2 C609.3,155.0 613.0,159.2 616.6,163.2 C620.1,167.3 623.2,171.8 625.5,175.5 C627.9,179.3 628.9,182.6 630.7,186.0 C632.5,189.3 634.8,192.7 636.4,195.7 C638.0,198.6 639.2,201.0 640.3,203.5 C641.4,205.9 642.0,207.5 643.2,210.3 C644.3,213.2 646.0,217.3 647.3,220.5 C648.7,223.6 650.0,226.3 651.2,229.2 C652.4,232.2 653.0,234.2 654.4,238.0 C655.8,241.8 657.2,246.8 659.5,252.0 C661.9,257.1 665.7,263.4 668.5,269.0 C671.3,274.6 673.6,281.0 676.2,285.8 C678.7,290.6 681.0,294.5 683.9,297.9 C686.8,301.2 690.0,302.9 693.5,305.9 C697.0,308.9 700.6,313.3 705.0,316.1 C709.4,318.9 715.1,321.2 719.8,322.7 C724.5,324.2 731.0,324.9 733.2,325.3" fill="none" stroke="#800000" stroke-width="1.4" stroke-dasharray="7,6"/>
<path d="M521.7,88.7 C523.0,88.7 527.4,88.7 529.4,88.7 C531.4,90.3 532.3,95.1 533.9,98.2 C535.5,101.3 537.1,104.3 539.0,107.2 C540.9,110.0 543.7,112.4 545.4,115.2 C547.1,118.0 548.2,121.8 549.3,124.0 C550.3,126.1 550.1,126.3 551.8,128.0 C553.5,129.7 557.0,132.3 559.5,134.1 C562.1,136.0 564.6,137.5 567.2,139.1 C569.8,140.7 571.1,141.6 574.9,143.6 C578.7,145.6 585.2,148.7 590.3,151.2 C595.4,153.7 601.3,155.9 605.7,158.7 C610.1,161.5 614.0,165.1 616.6,168.0 C619.1,170.9 619.6,173.1 621.1,176.3 C622.6,179.4 623.9,183.2 625.5,186.9 C627.1,190.6 629.1,194.4 630.7,198.7 C632.3,203.1 633.6,208.0 635.2,212.9 C636.8,217.9 638.6,223.4 640.3,228.3 C642.0,233.2 643.8,238.5 645.4,242.5 C647.1,246.5 648.4,248.1 650.2,252.2 C652.0,256.3 654.0,262.1 656.3,267.3 C658.6,272.6 661.5,278.9 664.0,283.7 C666.5,288.4 668.4,291.4 671.1,295.7 C673.7,300.1 676.2,305.8 680.0,309.7 C683.9,313.6 689.5,316.8 694.1,319.1 C698.7,321.5 703.2,322.6 707.6,323.6 C712.0,324.7 718.3,325.0 720.4,325.3" fill="none" stroke="#ff0000" stroke-width="1.4"/>
<path d="M521.7,88.7 C522.7,88.7 526.1,88.7 527.5,88.7 C528.9,90.7 528.6,95.3 530.0,100.5 C531.5,105.8 534.5,114.8 536.2,119.9 C537.9,125.1 538.6,127.9 540.0,131.3 C541.4,134.7 542.6,137.5 544.6,140.5 C546.6,143.6 549.7,146.7 552.2,149.5 C554.8,152.3 557.3,155.3 559.8,157.3 C562.3,159.4 563.4,160.3 567.2,161.8 C571.0,163.3 577.5,164.8 582.6,166.3 C587.7,167.8 594.0,168.9 598.0,170.8 C601.9,172.7 603.7,175.8 606.3,177.9 C608.9,180.0 611.2,181.6 613.4,183.3 C615.6,185.1 617.5,186.5 619.5,188.6 C621.4,190.6 623.2,193.0 624.9,195.7 C626.6,198.3 628.1,201.8 629.4,204.4 C630.7,207.0 631.2,208.3 632.6,211.0 C634.0,213.7 635.8,217.5 637.7,220.5 C639.6,223.5 642.2,226.8 644.1,229.2 C646.1,231.7 647.2,233.2 649.3,235.4 C651.3,237.6 653.9,239.9 656.3,242.5 C658.8,245.1 660.7,247.1 664.0,250.8 C667.3,254.4 672.3,259.7 676.2,264.5 C680.0,269.3 683.6,274.8 687.1,279.6 C690.6,284.4 693.4,289.2 697.3,293.4 C701.3,297.5 706.1,300.9 710.8,304.5 C715.5,308.0 720.2,311.7 725.5,314.7 C730.9,317.6 737.0,320.3 742.8,322.0 C748.7,323.7 756.0,324.3 760.8,324.8 C765.6,325.3 769.9,325.2 771.7,325.3" fill="none" stroke="#008000" stroke-width="1.4"/>
<path d="M521.7,88.7 C523.0,88.7 527.3,88.7 529.4,88.7 C531.5,92.7 532.6,105.3 534.5,112.4 C536.4,119.5 538.6,125.8 540.9,131.3 C543.3,136.8 545.5,140.9 548.6,145.5 C551.8,150.1 556.2,155.5 559.8,158.7 C563.5,162.0 566.6,162.9 570.4,164.9 C574.2,166.9 578.5,168.8 582.6,170.8 C586.7,172.8 591.2,174.8 594.8,177.0 C598.3,179.2 601.5,182.1 603.7,184.1 C606.0,186.0 606.5,186.6 608.2,188.6 C609.9,190.5 612.0,192.9 614.0,195.7 C616.0,198.4 618.8,202.7 620.4,205.1 C622.0,207.6 622.0,207.8 623.6,210.3 C625.2,212.9 627.8,217.3 630.0,220.5 C632.3,223.6 635.1,227.0 637.1,229.2 C639.1,231.5 640.2,232.3 642.2,233.7 C644.2,235.2 646.9,236.3 649.3,238.0 C651.6,239.7 653.5,241.0 656.3,243.9 C659.1,246.8 662.9,251.8 665.9,255.5 C668.9,259.2 671.6,263.2 674.3,266.2 C676.9,269.2 678.6,270.2 682.0,273.5 C685.3,276.8 690.6,282.0 694.4,285.8 C698.3,289.6 701.2,292.7 705.0,296.2 C708.8,299.7 713.7,303.8 717.2,306.8 C720.7,309.9 722.3,312.2 726.2,314.7 C730.0,317.1 735.0,319.7 740.3,321.3 C745.5,322.9 751.8,323.7 757.6,324.4 C763.4,325.0 772.0,325.1 774.9,325.3" fill="none" stroke="#008000" stroke-width="1.4" stroke-dasharray="7,6"/>
<path d="M521.7,88.7 C522.7,88.7 525.9,88.7 527.5,88.7 C529.1,91.9 529.7,101.6 531.3,107.6 C532.9,113.7 534.9,120.7 537.1,124.9 C539.2,129.2 541.3,130.7 544.1,133.2 C547.0,135.7 551.0,137.7 554.3,140.1 C557.6,142.4 560.7,145.3 564.0,147.2 C567.3,149.0 570.0,149.6 574.3,151.2 C578.5,152.7 584.4,154.1 589.6,156.4 C594.9,158.7 601.0,162.4 605.7,164.9 C610.4,167.4 614.5,169.4 617.9,171.5 C621.2,173.7 623.5,175.3 625.5,177.9 C627.6,180.5 628.5,183.7 630.0,186.9 C631.5,190.1 633.2,194.0 634.5,197.3 C635.8,200.7 636.7,204.0 637.7,207.0 C638.8,210.0 639.9,212.6 640.9,215.3 C642.0,218.0 643.1,219.9 644.1,223.1 C645.2,226.3 646.3,231.2 647.3,234.7 C648.4,238.2 648.9,240.0 650.2,243.9 C651.5,247.9 653.0,252.9 655.0,258.3 C657.1,263.8 660.1,271.3 662.4,276.6 C664.7,281.8 666.5,286.3 668.8,290.0 C671.1,293.8 673.6,295.7 676.2,298.8 C678.8,301.9 681.2,305.6 684.5,308.7 C687.8,311.9 692.2,315.2 696.1,317.5 C699.9,319.8 703.5,321.4 707.6,322.7 C711.6,324.0 718.3,324.9 720.4,325.3" fill="none" stroke="#800080" stroke-width="1.4"/>
<path d="M521.7,88.7 C522.7,88.7 525.9,88.7 527.5,88.7 C529.1,92.7 530.2,106.8 531.3,112.4 C532.4,117.9 533.1,119.3 533.9,122.1 C534.6,124.9 534.7,126.8 535.8,129.2 C536.9,131.5 537.7,133.6 540.3,136.3 C542.9,139.0 547.2,142.4 551.2,145.3 C555.1,148.1 559.3,151.1 564.0,153.3 C568.7,155.5 573.7,156.6 579.4,158.3 C585.1,159.9 592.3,161.2 598.0,163.2 C603.6,165.3 609.8,167.5 613.4,170.8 C616.9,174.2 617.4,180.0 619.1,183.3 C620.8,186.7 622.4,188.4 623.6,191.2 C624.8,193.9 625.2,197.1 626.2,199.9 C627.1,202.7 627.9,204.4 629.4,208.0 C630.9,211.5 633.4,217.3 635.2,221.4 C636.9,225.6 638.5,229.9 639.6,232.8 C640.8,235.7 640.9,235.8 642.2,238.9 C643.5,242.1 645.4,247.0 647.3,252.0 C649.3,256.9 651.5,263.0 653.7,268.5 C656.0,274.0 658.2,280.0 660.8,285.1 C663.4,290.2 666.1,294.9 669.1,299.3 C672.1,303.6 675.0,307.8 678.7,311.1 C682.5,314.5 686.8,317.2 691.6,319.4 C696.4,321.6 702.8,323.1 707.6,324.1 C712.4,325.1 718.3,325.1 720.4,325.3" fill="none" stroke="#800080" stroke-width="1.4" stroke-dasharray="7,6"/>
<path d="M521.7,88.7 C522.8,88.7 526.5,88.7 528.1,88.7 C529.7,91.5 529.5,100.2 531.3,105.3 C533.1,110.4 536.7,114.6 539.0,119.2 C541.4,123.9 542.9,129.6 545.4,133.2 C548.0,136.8 551.5,138.8 554.3,141.0 C557.2,143.2 559.1,144.7 562.4,146.2 C565.7,147.7 570.9,149.3 574.3,150.2 C577.6,151.2 580.2,151.3 582.6,151.9 C584.9,152.5 586.8,152.9 588.4,153.8 C589.9,154.7 590.3,155.5 591.9,157.3 C593.5,159.2 596.2,161.9 598.0,164.9 C599.7,167.9 601.2,172.6 602.5,175.1 C603.7,177.6 604.6,177.8 605.7,179.8 C606.7,181.8 607.6,183.8 608.9,186.9 C610.2,190.0 611.9,194.4 613.4,198.3 C614.8,202.1 616.2,206.7 617.7,210.1 C619.1,213.5 620.7,215.9 622.1,218.8 C623.5,221.8 624.7,224.9 626.2,227.6 C627.6,230.2 628.9,232.0 630.9,234.7 C632.8,237.4 634.8,241.0 637.7,243.9 C640.7,246.8 644.2,248.8 648.6,252.2 C653.0,255.6 659.4,260.4 664.0,264.5 C668.6,268.6 672.3,272.4 676.2,276.6 C680.0,280.7 683.1,284.9 687.1,289.3 C691.0,293.8 695.6,299.5 699.9,303.3 C704.2,307.1 708.4,309.7 712.7,312.3 C717.0,314.9 720.8,317.1 725.5,318.9 C730.2,320.7 736.4,322.1 740.9,323.2 C745.4,324.2 750.5,324.9 752.5,325.3" fill="none" stroke="#000000" stroke-width="1.4"/>
<path d="M521.7,88.7 C522.9,88.7 527.0,88.7 528.8,88.7 C530.5,91.1 530.5,98.2 532.0,102.9 C533.5,107.6 535.7,113.2 537.7,117.1 C539.8,121.0 541.5,123.8 544.1,126.6 C546.8,129.3 548.2,131.4 553.8,133.7 C559.3,135.9 572.1,137.9 577.5,140.1 C582.8,142.2 583.7,143.3 585.8,146.4 C587.9,149.6 588.8,154.7 590.3,158.7 C591.8,162.8 593.5,167.3 594.8,170.8 C596.1,174.4 596.9,177.5 598.0,180.0 C599.0,182.6 599.8,182.6 601.0,186.0 C602.2,189.3 604.0,195.6 605.4,199.9 C606.7,204.2 607.9,208.9 608.9,211.7 C609.9,214.6 610.3,214.6 611.4,216.9 C612.6,219.3 614.1,222.7 615.9,225.9 C617.7,229.2 620.8,233.9 622.3,236.3 C623.8,238.8 623.6,238.7 624.9,240.8 C626.2,243.0 627.7,246.2 630.3,249.1 C633.0,252.0 637.6,255.3 640.9,258.3 C644.2,261.4 647.1,264.0 650.2,267.3 C653.3,270.6 656.5,274.6 659.5,278.2 C662.6,281.8 665.9,285.6 668.5,288.9 C671.1,292.1 671.7,294.5 674.9,297.9 C678.1,301.2 683.7,305.3 687.7,308.7 C691.8,312.1 695.4,315.9 699.3,318.2 C703.1,320.5 706.7,321.5 710.8,322.7 C714.9,323.9 721.5,324.9 723.6,325.3" fill="none" stroke="#000000" stroke-width="1.4" stroke-dasharray="7,6"/>
<path d="M521.7,88.7 C522.8,88.7 526.8,88.7 528.1,88.7 C529.4,89.8 527.7,89.2 529.4,95.1 C531.1,101.0 535.9,118.1 538.4,124.0 C540.8,129.8 542.0,128.1 544.1,130.1 C546.3,132.2 548.3,134.6 551.2,136.3 C554.1,137.9 557.6,138.9 561.4,140.1 C565.3,141.2 570.7,142.1 574.3,143.1 C577.8,144.2 579.9,144.4 582.6,146.4 C585.3,148.5 587.7,152.4 590.3,155.7 C592.9,159.0 595.2,163.0 598.0,166.3 C600.8,169.6 604.8,173.6 607.0,175.5 C609.1,177.5 609.0,176.3 610.8,177.9 C612.6,179.5 615.3,182.5 617.9,185.0 C620.4,187.5 623.3,190.4 626.2,193.0 C629.1,195.7 632.2,198.0 635.2,200.9 C638.1,203.7 641.6,207.1 644.1,210.1 C646.6,213.1 648.3,215.9 650.2,218.8 C652.1,221.8 654.0,224.9 655.7,227.6 C657.3,230.2 658.8,232.0 660.2,234.7 C661.5,237.4 662.1,241.0 664.0,243.9 C665.9,246.8 668.9,248.3 671.7,252.2 C674.5,256.1 677.9,262.3 680.7,267.3 C683.4,272.4 685.8,278.0 688.4,282.7 C690.9,287.4 693.3,292.1 696.1,295.7 C698.8,299.4 701.6,301.8 705.0,304.5 C708.4,307.2 712.2,309.4 716.6,311.8 C720.9,314.3 726.4,317.2 731.3,319.1 C736.2,321.1 741.5,322.4 746.1,323.4 C750.6,324.4 756.7,325.0 758.9,325.3" fill="none" stroke="#0000ff" stroke-width="1.4"/>
<path d="M521.7,88.7 C523.0,88.7 527.5,88.7 529.4,88.7 C531.3,91.9 531.6,102.5 533.2,107.6 C534.8,112.8 536.7,115.5 539.0,119.5 C541.4,123.4 544.3,128.0 547.3,131.3 C550.3,134.6 554.4,137.3 557.0,139.1 C559.5,140.9 560.1,141.0 562.4,142.2 C564.8,143.4 567.9,145.2 571.1,146.2 C574.2,147.2 578.9,147.0 581.3,148.1 C583.8,149.2 583.0,150.6 585.8,152.6 C588.6,154.6 593.4,156.9 598.0,160.2 C602.6,163.5 609.8,169.5 613.4,172.5 C616.9,175.4 617.5,175.4 619.5,177.9 C621.4,180.4 623.0,183.9 624.9,187.6 C626.8,191.3 628.7,196.2 630.7,199.9 C632.6,203.7 635.1,207.5 636.4,210.1 C637.8,212.6 637.7,212.8 639.0,215.3 C640.3,217.8 642.7,221.6 644.1,225.0 C645.5,228.3 646.3,232.9 647.3,235.4 C648.4,237.9 648.9,237.8 650.2,239.9 C651.5,241.9 653.0,244.4 655.0,247.7 C657.1,251.0 659.6,255.5 662.4,259.8 C665.2,264.1 668.9,269.4 671.7,273.5 C674.5,277.5 676.8,280.3 679.4,284.1 C682.0,288.0 684.3,293.0 687.1,296.4 C689.9,299.8 692.6,301.7 696.1,304.5 C699.5,307.3 703.2,310.6 707.6,313.2 C712.0,315.9 717.0,318.7 722.3,320.6 C727.7,322.4 734.6,323.6 739.6,324.4 C744.7,325.1 750.3,325.1 752.5,325.3" fill="none" stroke="#0000ff" stroke-width="1.4" stroke-dasharray="7,6"/>
<path d="M521.7,88.7 C523.3,88.7 528.9,88.7 531.3,88.7 C533.8,90.7 534.5,96.6 536.4,100.5 C538.4,104.5 540.5,108.8 542.9,112.4 C545.2,115.9 547.7,118.7 550.5,121.8 C553.4,125.0 555.7,127.8 560.2,131.3 C564.6,134.9 573.2,140.4 577.5,143.1 C581.7,145.9 582.4,146.0 585.8,147.9 C589.2,149.7 593.4,151.9 598.0,154.3 C602.6,156.6 609.3,158.8 613.4,161.8 C617.4,164.9 619.8,169.2 622.3,172.5 C624.9,175.7 626.7,179.4 628.7,181.5 C630.8,183.5 632.7,183.0 634.5,185.0 C636.3,187.1 638.4,191.7 639.6,193.8 C640.9,195.8 641.0,195.3 642.2,197.3 C643.4,199.4 645.5,203.9 646.7,206.1 C647.9,208.2 648.4,208.3 649.3,210.1 C650.1,211.9 650.8,214.3 651.8,216.9 C652.9,219.6 654.5,223.1 655.7,225.9 C656.8,228.7 657.9,231.6 658.9,233.7 C659.8,235.9 660.6,237.1 661.4,238.9 C662.3,240.8 662.8,241.1 664.0,244.9 C665.2,248.6 666.8,255.9 668.5,261.4 C670.2,266.9 671.6,272.3 674.3,278.0 C676.9,283.7 681.3,291.1 684.5,295.7 C687.7,300.4 690.1,302.5 693.5,305.9 C696.9,309.3 700.6,313.3 705.0,316.1 C709.4,318.9 715.1,321.2 719.8,322.7 C724.5,324.2 731.0,324.9 733.2,325.3" fill="none" stroke="#ff0000" stroke-width="1.4" stroke-dasharray="7,6"/>
<path d="M521.7,88.7 C522.8,88.7 526.5,88.7 528.1,88.7 C529.7,91.4 529.8,100.3 531.3,105.0 C532.8,109.8 534.7,113.8 537.1,117.1 C539.4,120.4 542.5,122.4 545.4,124.9 C548.3,127.4 551.2,130.2 554.3,132.0 C557.4,133.9 560.7,134.9 564.0,136.0 C567.3,137.2 571.2,137.9 574.3,139.1 C577.4,140.3 578.6,141.6 582.6,143.1 C586.5,144.6 592.9,146.0 598.0,148.1 C603.1,150.2 608.2,152.9 613.4,155.7 C618.5,158.5 624.2,161.8 628.7,164.9 C633.3,168.0 637.4,170.3 640.9,174.1 C644.5,177.9 646.8,182.4 649.9,187.8 C653.0,193.2 656.4,199.6 659.5,206.5 C662.6,213.5 665.8,222.5 668.5,229.7 C671.2,237.0 672.8,243.3 675.5,250.1 C678.3,256.8 682.3,264.5 685.2,270.4 C688.0,276.4 690.4,281.6 692.8,285.8 C695.3,290.0 696.5,291.7 699.9,295.5 C703.3,299.3 709.0,305.0 713.4,308.5 C717.7,312.0 721.8,314.2 726.2,316.3 C730.6,318.4 734.2,319.7 739.6,321.0 C745.1,322.4 753.5,323.6 758.9,324.4 C764.2,325.1 769.6,325.1 771.7,325.3" fill="none" stroke="#800000" stroke-width="1.4"/>
<path d="M521.7,88.7 C524.9,88.7 537.2,88.7 540.9,88.7 C544.7,89.2 542.6,89.9 544.1,91.6 C545.6,93.2 547.0,96.3 549.9,98.7 C552.8,101.0 557.6,103.5 561.4,105.5 C565.3,107.5 569.0,109.1 573.0,110.7 C576.9,112.3 581.2,113.5 585.2,115.0 C589.1,116.4 592.9,117.9 596.7,119.5 C600.5,121.0 604.4,122.4 608.2,124.2 C612.1,126.1 616.4,128.1 619.8,130.6 C623.2,133.1 625.9,135.7 628.7,139.3 C631.6,143.0 634.6,147.7 637.1,152.6 C639.6,157.5 641.7,163.6 643.8,168.7 C645.9,173.8 648.1,177.0 649.9,183.3 C651.7,189.7 652.8,198.8 654.4,206.5 C656.0,214.3 658.3,223.3 659.5,229.7 C660.7,236.1 660.6,240.0 661.4,244.9 C662.3,249.8 663.3,254.3 664.6,259.1 C666.0,263.8 668.1,268.4 669.8,273.5 C671.5,278.5 673.4,284.6 674.9,289.3 C676.4,294.0 677.1,297.9 678.7,301.6 C680.3,305.4 682.1,308.7 684.5,311.8 C687.0,315.0 690.1,318.5 693.5,320.6 C696.9,322.6 701.6,323.3 705.0,324.1 C708.4,324.9 712.5,325.1 714.0,325.3" fill="none" stroke="#000080" stroke-width="1.4"/>
<path d="M521.7,88.7 C525.1,88.7 537.9,88.7 542.2,88.7 C546.5,89.2 546.0,90.3 547.3,91.6 C548.7,92.8 549.6,94.1 550.5,96.1 C551.5,98.0 552.5,100.9 553.1,103.1 C553.7,105.4 553.8,106.9 554.3,109.3 C554.9,111.7 555.8,114.9 556.3,117.3 C556.9,119.8 557.1,122.1 557.6,124.0 C558.1,125.9 558.7,126.7 559.1,128.7 C559.4,130.7 559.4,133.1 559.8,136.0 C560.2,139.0 560.7,142.1 561.4,146.4 C562.2,150.7 563.5,156.7 564.5,161.8 C565.4,166.9 566.2,172.2 567.2,177.0 C568.2,181.7 569.6,186.2 570.4,190.2 C571.2,194.2 571.3,196.7 572.1,201.1 C572.8,205.5 573.9,211.4 574.9,216.5 C575.9,221.6 577.1,226.9 578.1,231.6 C579.1,236.3 579.6,240.9 580.7,244.9 C581.7,248.8 583.2,252.2 584.3,255.3 C585.4,258.3 585.9,260.1 587.2,263.3 C588.5,266.5 590.7,271.0 592.2,274.4 C593.8,277.8 594.9,280.5 596.5,283.7 C598.1,286.8 599.9,290.3 601.8,293.1 C603.8,295.9 605.9,298.3 608.1,300.5 C610.4,302.7 612.6,304.4 615.3,306.4 C618.0,308.3 621.5,310.4 624.4,312.1 C627.3,313.7 628.8,314.7 632.6,316.1 C636.4,317.5 642.5,319.3 647.3,320.6 C652.1,321.8 656.7,322.7 661.4,323.4 C666.1,324.1 671.1,324.5 675.5,324.8 C680.0,325.1 686.2,325.2 688.4,325.3" fill="none" stroke="#000080" stroke-width="1.4" stroke-dasharray="7,6"/>
<path d="M521.7,88.7 C523.1,88.7 527.9,88.7 530.0,88.7 C532.2,90.7 532.7,96.2 534.5,100.5 C536.3,104.9 538.3,110.4 540.9,114.7 C543.6,119.1 546.6,122.8 550.5,126.6 C554.5,130.4 557.8,134.9 564.5,137.5 C571.1,140.0 583.2,140.9 590.3,141.9 C597.4,143.0 602.3,142.6 607.0,143.6 C611.6,144.6 614.3,145.6 618.2,148.1 C622.1,150.6 626.8,155.4 630.3,158.7 C633.9,162.1 636.8,164.8 639.6,168.0 C642.5,171.2 645.1,174.3 647.3,177.9 C649.6,181.5 651.3,185.7 653.1,189.5 C654.9,193.3 656.4,197.1 658.2,200.9 C660.0,204.6 662.0,208.6 664.0,212.2 C666.0,215.8 668.1,218.8 670.4,222.4 C672.8,226.0 675.9,230.7 678.1,233.7 C680.3,236.8 682.0,238.0 683.9,240.8 C685.8,243.7 687.4,247.3 689.6,250.8 C691.9,254.2 695.0,257.9 697.3,261.4 C699.7,265.0 701.4,268.5 703.7,272.1 C706.1,275.6 708.9,279.2 711.4,282.7 C714.0,286.3 716.2,290.0 719.1,293.4 C722.0,296.8 725.4,299.7 728.7,303.1 C732.1,306.4 735.4,310.3 739.0,313.2 C742.6,316.2 746.2,318.7 750.5,320.6 C754.9,322.4 760.2,323.6 765.0,324.4 C769.8,325.1 777.0,325.1 779.4,325.3" fill="none" stroke="#808000" stroke-width="1.4" stroke-dasharray="7,6"/>
<path d="M521.7,88.7 C522.8,88.7 526.5,88.7 528.1,88.7 C529.7,90.1 530.4,94.3 531.3,97.0 C532.3,99.7 532.9,102.8 533.9,105.0 C534.8,107.3 536.1,108.7 537.0,110.5 C537.8,112.3 537.3,113.3 539.0,115.9 C540.7,118.5 545.1,122.9 547.1,126.1 C549.2,129.3 549.9,131.9 551.2,135.1 C552.5,138.3 553.6,141.6 555.0,145.3 C556.4,149.0 558.0,152.9 559.5,157.3 C561.0,161.7 562.5,167.0 564.0,171.5 C565.6,176.1 566.5,178.7 568.8,184.5 C571.2,190.4 574.6,199.4 578.1,206.5 C581.6,213.7 585.0,220.1 589.6,227.4 C594.3,234.6 601.1,244.0 606.0,250.1 C610.9,256.2 614.5,260.0 619.1,264.0 C623.8,268.1 629.0,271.3 633.9,274.4 C638.8,277.5 643.9,280.1 648.6,282.7 C653.3,285.3 657.5,287.4 662.1,290.0 C666.7,292.7 670.9,296.1 676.2,298.8 C681.4,301.5 687.7,303.5 693.5,306.1 C699.3,308.8 705.0,312.2 710.8,314.7 C716.6,317.1 722.2,319.0 728.1,320.6 C734.0,322.1 739.9,323.3 746.1,324.1 C752.2,324.9 762.1,325.1 765.3,325.3" fill="none" stroke="#808000" stroke-width="1.4"/>
<line x1="65.0" y1="41.4" x2="429.6" y2="41.4" stroke="#000" stroke-width="1.3"/>
<line x1="65.0" y1="325.3" x2="429.6" y2="325.3" stroke="#000" stroke-width="1.3"/>
<line x1="71.0" y1="35.4" x2="71.0" y2="331.3" stroke="#000" stroke-width="1.3"/>
<line x1="423.6" y1="35.4" x2="423.6" y2="331.3" stroke="#000" stroke-width="1.3"/>
<line x1="77.4" y1="325.3" x2="77.4" y2="328.3" stroke="#000" stroke-width="1.3"/>
<line x1="77.4" y1="41.4" x2="77.4" y2="38.4" stroke="#000" stroke-width="1.3"/>
<line x1="83.8" y1="325.3" x2="83.8" y2="328.3" stroke="#000" stroke-width="1.3"/>
<line x1="83.8" y1="41.4" x2="83.8" y2="38.4" stroke="#000" stroke-width="1.3"/>
<line x1="90.2" y1="325.3" x2="90.2" y2="328.3" stroke="#000" stroke-width="1.3"/>
<line x1="90.2" y1="41.4" x2="90.2" y2="38.4" stroke="#000" stroke-width="1.3"/>
<line x1="96.6" y1="325.3" x2="96.6" y2="328.3" stroke="#000" stroke-width="1.3"/>
<line x1="96.6" y1="41.4" x2="96.6" y2="38.4" stroke="#000" stroke-width="1.3"/>
<line x1="103.0" y1="325.3" x2="103.0" y2="331.3" stroke="#000" stroke-width="1.3"/>
<line x1="103.0" y1="41.4" x2="103.0" y2="35.4" stroke="#000" stroke-width="1.3"/>
<line x1="109.5" y1="325.3" x2="109.5" y2="328.3" stroke="#000" stroke-width="1.3"/>
<line x1="109.5" y1="41.4" x2="109.5" y2="38.4" stroke="#000" stroke-width="1.3"/>
<line x1="115.9" y1="325.3" x2="115.9" y2="328.3" stroke="#000" stroke-width="1.3"/>
<line x1="115.9" y1="41.4" x2="115.9" y2="38.4" stroke="#000" stroke-width="1.3"/>
<line x1="122.3" y1="325.3" x2="122.3" y2="328.3" stroke="#000" stroke-width="1.3"/>
<line x1="122.3" y1="41.4" x2="122.3" y2="38.4" stroke="#000" stroke-width="1.3"/>
<line x1="128.7" y1="325.3" x2="128.7" y2="328.3" stroke="#000" stroke-width="1.3"/>
<line x1="128.7" y1="41.4" x2="128.7" y2="38.4" stroke="#000" stroke-width="1.3"/>
<line x1="135.1" y1="325.3" x2="135.1" y2="331.3" stroke="#000" stroke-width="1.3"/>
<line x1="135.1" y1="41.4" x2="135.1" y2="35.4" stroke="#000" stroke-width="1.3"/>
<line x1="141.5" y1="325.3" x2="141.5" y2="328.3" stroke="#000" stroke-width="1.3"/>
<line x1="141.5" y1="41.4" x2="141.5" y2="38.4" stroke="#000" stroke-width="1.3"/>
<line x1="147.9" y1="325.3" x2="147.9" y2="328.3" stroke="#000" stroke-width="1.3"/>
<line x1="147.9" y1="41.4" x2="147.9" y2="38.4" stroke="#000" stroke-width="1.3"/>
<line x1="154.3" y1="325.3" x2="154.3" y2="328.3" stroke="#000" stroke-width="1.3"/>
<line x1="154.3" y1="41.4" x2="154.3" y2="38.4" stroke="#000" stroke-width="1.3"/>
<line x1="160.7" y1="325.3" x2="160.7" y2="328.3" stroke="#000" stroke-width="1.3"/>
<line x1="160.7" y1="41.4" x2="160.7" y2="38.4" stroke="#000" stroke-width="1.3"/>
<line x1="167.2" y1="325.3" x2="167.2" y2="331.3" stroke="#000" stroke-width="1.3"/>
<line x1="167.2" y1="41.4" x2="167.2" y2="35.4" stroke="#000" stroke-width="1.3"/>
<line x1="173.6" y1="325.3" x2="173.6" y2="328.3" stroke="#000" stroke-width="1.3"/>
<line x1="173.6" y1="41.4" x2="173.6" y2="38.4" stroke="#000" stroke-width="1.3"/>
<line x1="180.0" y1="325.3" x2="180.0" y2="328.3" stroke="#000" stroke-width="1.3"/>
<line x1="180.0" y1="41.4" x2="180.0" y2="38.4" stroke="#000" stroke-width="1.3"/>
<line x1="186.4" y1="325.3" x2="186.4" y2="328.3" stroke="#000" stroke-width="1.3"/>
<line x1="186.4" y1="41.4" x2="186.4" y2="38.4" stroke="#000" stroke-width="1.3"/>
<line x1="192.8" y1="325.3" x2="192.8" y2="328.3" stroke="#000" stroke-width="1.3"/>
<line x1="192.8" y1="41.4" x2="192.8" y2="38.4" stroke="#000" stroke-width="1.3"/>
<line x1="199.2" y1="325.3" x2="199.2" y2="331.3" stroke="#000" stroke-width="1.3"/>
<line x1="199.2" y1="41.4" x2="199.2" y2="35.4" stroke="#000" stroke-width="1.3"/>
<line x1="205.6" y1="325.3" x2="205.6" y2="328.3" stroke="#000" stroke-width="1.3"/>
<line x1="205.6" y1="41.4" x2="205.6" y2="38.4" stroke="#000" stroke-width="1.3"/>
<line x1="212.0" y1="325.3" x2="212.0" y2="328.3" stroke="#000" stroke-width="1.3"/>
<line x1="212.0" y1="41.4" x2="212.0" y2="38.4" stroke="#000" stroke-width="1.3"/>
<line x1="218.4" y1="325.3" x2="218.4" y2="328.3" stroke="#000" stroke-width="1.3"/>
<line x1="218.4" y1="41.4" x2="218.4" y2="38.4" stroke="#000" stroke-width="1.3"/>
<line x1="224.8" y1="325.3" x2="224.8" y2="328.3" stroke="#000" stroke-width="1.3"/>
<line x1="224.8" y1="41.4" x2="224.8" y2="38.4" stroke="#000" stroke-width="1.3"/>
<line x1="231.2" y1="325.3" x2="231.2" y2="331.3" stroke="#000" stroke-width="1.3"/>
<line x1="231.2" y1="41.4" x2="231.2" y2="35.4" stroke="#000" stroke-width="1.3"/>
<line x1="237.7" y1="325.3" x2="237.7" y2="328.3" stroke="#000" stroke-width="1.3"/>
<line x1="237.7" y1="41.4" x2="237.7" y2="38.4" stroke="#000" stroke-width="1.3"/>
<line x1="244.1" y1="325.3" x2="244.1" y2="328.3" stroke="#000" stroke-width="1.3"/>
<line x1="244.1" y1="41.4" x2="244.1" y2="38.4" stroke="#000" stroke-width="1.3"/>
<line x1="250.5" y1="325.3" x2="250.5" y2="328.3" stroke="#000" stroke-width="1.3"/>
<line x1="250.5" y1="41.4" x2="250.5" y2="38.4" stroke="#000" stroke-width="1.3"/>
<line x1="256.9" y1="325.3" x2="256.9" y2="328.3" stroke="#000" stroke-width="1.3"/>
<line x1="256.9" y1="41.4" x2="256.9" y2="38.4" stroke="#000" stroke-width="1.3"/>
<line x1="263.3" y1="325.3" x2="263.3" y2="331.3" stroke="#000" stroke-width="1.3"/>
<line x1="263.3" y1="41.4" x2="263.3" y2="35.4" stroke="#000" stroke-width="1.3"/>
<line x1="269.7" y1="325.3" x2="269.7" y2="328.3" stroke="#000" stroke-width="1.3"/>
<line x1="269.7" y1="41.4" x2="269.7" y2="38.4" stroke="#000" stroke-width="1.3"/>
<line x1="276.1" y1="325.3" x2="276.1" y2="328.3" stroke="#000" stroke-width="1.3"/>
<line x1="276.1" y1="41.4" x2="276.1" y2="38.4" stroke="#000" stroke-width="1.3"/>
<line x1="282.5" y1="325.3" x2="282.5" y2="328.3" stroke="#000" stroke-width="1.3"/>
<line x1="282.5" y1="41.4" x2="282.5" y2="38.4" stroke="#000" stroke-width="1.3"/>
<line x1="288.9" y1="325.3" x2="288.9" y2="328.3" stroke="#000" stroke-width="1.3"/>
<line x1="288.9" y1="41.4" x2="288.9" y2="38.4" stroke="#000" stroke-width="1.3"/>
<line x1="295.4" y1="325.3" x2="295.4" y2="331.3" stroke="#000" stroke-width="1.3"/>
<line x1="295.4" y1="41.4" x2="295.4" y2="35.4" stroke="#000" stroke-width="1.3"/>
<line x1="301.8" y1="325.3" x2="301.8" y2="328.3" stroke="#000" stroke-width="1.3"/>
<line x1="301.8" y1="41.4" x2="301.8" y2="38.4" stroke="#000" stroke-width="1.3"/>
<line x1="308.2" y1="325.3" x2="308.2" y2="328.3" stroke="#000" stroke-width="1.3"/>
<line x1="308.2" y1="41.4" x2="308.2" y2="38.4" stroke="#000" stroke-width="1.3"/>
<line x1="314.6" y1="325.3" x2="314.6" y2="328.3" stroke="#000" stroke-width="1.3"/>
<line x1="314.6" y1="41.4" x2="314.6" y2="38.4" stroke="#000" stroke-width="1.3"/>
<line x1="321.0" y1="325.3" x2="321.0" y2="328.3" stroke="#000" stroke-width="1.3"/>
<line x1="321.0" y1="41.4" x2="321.0" y2="38.4" stroke="#000" stroke-width="1.3"/>
<line x1="327.4" y1="325.3" x2="327.4" y2="331.3" stroke="#000" stroke-width="1.3"/>
<line x1="327.4" y1="41.4" x2="327.4" y2="35.4" stroke="#000" stroke-width="1.3"/>
<line x1="333.8" y1="325.3" x2="333.8" y2="328.3" stroke="#000" stroke-width="1.3"/>
<line x1="333.8" y1="41.4" x2="333.8" y2="38.4" stroke="#000" stroke-width="1.3"/>
<line x1="340.2" y1="325.3" x2="340.2" y2="328.3" stroke="#000" stroke-width="1.3"/>
<line x1="340.2" y1="41.4" x2="340.2" y2="38.4" stroke="#000" stroke-width="1.3"/>
<line x1="346.6" y1="325.3" x2="346.6" y2="328.3" stroke="#000" stroke-width="1.3"/>
<line x1="346.6" y1="41.4" x2="346.6" y2="38.4" stroke="#000" stroke-width="1.3"/>
<line x1="353.0" y1="325.3" x2="353.0" y2="328.3" stroke="#000" stroke-width="1.3"/>
<line x1="353.0" y1="41.4" x2="353.0" y2="38.4" stroke="#000" stroke-width="1.3"/>
<line x1="359.4" y1="325.3" x2="359.4" y2="331.3" stroke="#000" stroke-width="1.3"/>
<line x1="359.4" y1="41.4" x2="359.4" y2="35.4" stroke="#000" stroke-width="1.3"/>
<line x1="365.9" y1="325.3" x2="365.9" y2="328.3" stroke="#000" stroke-width="1.3"/>
<line x1="365.9" y1="41.4" x2="365.9" y2="38.4" stroke="#000" stroke-width="1.3"/>
<line x1="372.3" y1="325.3" x2="372.3" y2="328.3" stroke="#000" stroke-width="1.3"/>
<line x1="372.3" y1="41.4" x2="372.3" y2="38.4" stroke="#000" stroke-width="1.3"/>
<line x1="378.7" y1="325.3" x2="378.7" y2="328.3" stroke="#000" stroke-width="1.3"/>
<line x1="378.7" y1="41.4" x2="378.7" y2="38.4" stroke="#000" stroke-width="1.3"/>
<line x1="385.1" y1="325.3" x2="385.1" y2="328.3" stroke="#000" stroke-width="1.3"/>
<line x1="385.1" y1="41.4" x2="385.1" y2="38.4" stroke="#000" stroke-width="1.3"/>
<line x1="391.5" y1="325.3" x2="391.5" y2="331.3" stroke="#000" stroke-width="1.3"/>
<line x1="391.5" y1="41.4" x2="391.5" y2="35.4" stroke="#000" stroke-width="1.3"/>
<line x1="397.9" y1="325.3" x2="397.9" y2="328.3" stroke="#000" stroke-width="1.3"/>
<line x1="397.9" y1="41.4" x2="397.9" y2="38.4" stroke="#000" stroke-width="1.3"/>
<line x1="404.3" y1="325.3" x2="404.3" y2="328.3" stroke="#000" stroke-width="1.3"/>
<line x1="404.3" y1="41.4" x2="404.3" y2="38.4" stroke="#000" stroke-width="1.3"/>
<line x1="410.7" y1="325.3" x2="410.7" y2="328.3" stroke="#000" stroke-width="1.3"/>
<line x1="410.7" y1="41.4" x2="410.7" y2="38.4" stroke="#000" stroke-width="1.3"/>
<line x1="417.1" y1="325.3" x2="417.1" y2="328.3" stroke="#000" stroke-width="1.3"/>
<line x1="417.1" y1="41.4" x2="417.1" y2="38.4" stroke="#000" stroke-width="1.3"/>
<line x1="71.0" y1="315.8" x2="68.0" y2="315.8" stroke="#000" stroke-width="1.3"/>
<line x1="423.6" y1="315.8" x2="426.6" y2="315.8" stroke="#000" stroke-width="1.3"/>
<line x1="71.0" y1="306.4" x2="68.0" y2="306.4" stroke="#000" stroke-width="1.3"/>
<line x1="423.6" y1="306.4" x2="426.6" y2="306.4" stroke="#000" stroke-width="1.3"/>
<line x1="71.0" y1="296.9" x2="68.0" y2="296.9" stroke="#000" stroke-width="1.3"/>
<line x1="423.6" y1="296.9" x2="426.6" y2="296.9" stroke="#000" stroke-width="1.3"/>
<line x1="71.0" y1="287.4" x2="68.0" y2="287.4" stroke="#000" stroke-width="1.3"/>
<line x1="423.6" y1="287.4" x2="426.6" y2="287.4" stroke="#000" stroke-width="1.3"/>
<line x1="71.0" y1="278.0" x2="65.0" y2="278.0" stroke="#000" stroke-width="1.3"/>
<line x1="423.6" y1="278.0" x2="429.6" y2="278.0" stroke="#000" stroke-width="1.3"/>
<line x1="71.0" y1="268.5" x2="68.0" y2="268.5" stroke="#000" stroke-width="1.3"/>
<line x1="423.6" y1="268.5" x2="426.6" y2="268.5" stroke="#000" stroke-width="1.3"/>
<line x1="71.0" y1="259.1" x2="68.0" y2="259.1" stroke="#000" stroke-width="1.3"/>
<line x1="423.6" y1="259.1" x2="426.6" y2="259.1" stroke="#000" stroke-width="1.3"/>
<line x1="71.0" y1="249.6" x2="68.0" y2="249.6" stroke="#000" stroke-width="1.3"/>
<line x1="423.6" y1="249.6" x2="426.6" y2="249.6" stroke="#000" stroke-width="1.3"/>
<line x1="71.0" y1="240.1" x2="68.0" y2="240.1" stroke="#000" stroke-width="1.3"/>
<line x1="423.6" y1="240.1" x2="426.6" y2="240.1" stroke="#000" stroke-width="1.3"/>
<line x1="71.0" y1="230.7" x2="65.0" y2="230.7" stroke="#000" stroke-width="1.3"/>
<line x1="423.6" y1="230.7" x2="429.6" y2="230.7" stroke="#000" stroke-width="1.3"/>
<line x1="71.0" y1="221.2" x2="68.0" y2="221.2" stroke="#000" stroke-width="1.3"/>
<line x1="423.6" y1="221.2" x2="426.6" y2="221.2" stroke="#000" stroke-width="1.3"/>
<line x1="71.0" y1="211.7" x2="68.0" y2="211.7" stroke="#000" stroke-width="1.3"/>
<line x1="423.6" y1="211.7" x2="426.6" y2="211.7" stroke="#000" stroke-width="1.3"/>
<line x1="71.0" y1="202.3" x2="68.0" y2="202.3" stroke="#000" stroke-width="1.3"/>
<line x1="423.6" y1="202.3" x2="426.6" y2="202.3" stroke="#000" stroke-width="1.3"/>
<line x1="71.0" y1="192.8" x2="68.0" y2="192.8" stroke="#000" stroke-width="1.3"/>
<line x1="423.6" y1="192.8" x2="426.6" y2="192.8" stroke="#000" stroke-width="1.3"/>
<line x1="71.0" y1="183.3" x2="65.0" y2="183.3" stroke="#000" stroke-width="1.3"/>
<line x1="423.6" y1="183.3" x2="429.6" y2="183.3" stroke="#000" stroke-width="1.3"/>
<line x1="71.0" y1="173.9" x2="68.0" y2="173.9" stroke="#000" stroke-width="1.3"/>
<line x1="423.6" y1="173.9" x2="426.6" y2="173.9" stroke="#000" stroke-width="1.3"/>
<line x1="71.0" y1="164.4" x2="68.0" y2="164.4" stroke="#000" stroke-width="1.3"/>
<line x1="423.6" y1="164.4" x2="426.6" y2="164.4" stroke="#000" stroke-width="1.3"/>
<line x1="71.0" y1="155.0" x2="68.0" y2="155.0" stroke="#000" stroke-width="1.3"/>
<line x1="423.6" y1="155.0" x2="426.6" y2="155.0" stroke="#000" stroke-width="1.3"/>
<line x1="71.0" y1="145.5" x2="68.0" y2="145.5" stroke="#000" stroke-width="1.3"/>
<line x1="423.6" y1="145.5" x2="426.6" y2="145.5" stroke="#000" stroke-width="1.3"/>
<line x1="71.0" y1="136.0" x2="65.0" y2="136.0" stroke="#000" stroke-width="1.3"/>
<line x1="423.6" y1="136.0" x2="429.6" y2="136.0" stroke="#000" stroke-width="1.3"/>
<line x1="71.0" y1="126.6" x2="68.0" y2="126.6" stroke="#000" stroke-width="1.3"/>
<line x1="423.6" y1="126.6" x2="426.6" y2="126.6" stroke="#000" stroke-width="1.3"/>
<line x1="71.0" y1="117.1" x2="68.0" y2="117.1" stroke="#000" stroke-width="1.3"/>
<line x1="423.6" y1="117.1" x2="426.6" y2="117.1" stroke="#000" stroke-width="1.3"/>
<line x1="71.0" y1="107.6" x2="68.0" y2="107.6" stroke="#000" stroke-width="1.3"/>
<line x1="423.6" y1="107.6" x2="426.6" y2="107.6" stroke="#000" stroke-width="1.3"/>
<line x1="71.0" y1="98.2" x2="68.0" y2="98.2" stroke="#000" stroke-width="1.3"/>
<line x1="423.6" y1="98.2" x2="426.6" y2="98.2" stroke="#000" stroke-width="1.3"/>
<line x1="71.0" y1="88.7" x2="65.0" y2="88.7" stroke="#000" stroke-width="1.3"/>
<line x1="423.6" y1="88.7" x2="429.6" y2="88.7" stroke="#000" stroke-width="1.3"/>
<line x1="71.0" y1="79.3" x2="68.0" y2="79.3" stroke="#000" stroke-width="1.3"/>
<line x1="423.6" y1="79.3" x2="426.6" y2="79.3" stroke="#000" stroke-width="1.3"/>
<line x1="71.0" y1="69.8" x2="68.0" y2="69.8" stroke="#000" stroke-width="1.3"/>
<line x1="423.6" y1="69.8" x2="426.6" y2="69.8" stroke="#000" stroke-width="1.3"/>
<line x1="71.0" y1="60.3" x2="68.0" y2="60.3" stroke="#000" stroke-width="1.3"/>
<line x1="423.6" y1="60.3" x2="426.6" y2="60.3" stroke="#000" stroke-width="1.3"/>
<line x1="71.0" y1="50.9" x2="68.0" y2="50.9" stroke="#000" stroke-width="1.3"/>
<line x1="423.6" y1="50.9" x2="426.6" y2="50.9" stroke="#000" stroke-width="1.3"/>
<text x="70.7" y="350.8" text-anchor="middle" class="n">0</text>
<text x="102.8" y="350.8" text-anchor="middle" class="n">5</text>
<text x="134.8" y="350.8" text-anchor="middle" class="n">10</text>
<text x="166.8" y="350.8" text-anchor="middle" class="n">15</text>
<text x="198.9" y="350.8" text-anchor="middle" class="n">20</text>
<text x="230.9" y="350.8" text-anchor="middle" class="n">25</text>
<text x="263.0" y="350.8" text-anchor="middle" class="n">30</text>
<text x="295.1" y="350.8" text-anchor="middle" class="n">35</text>
<text x="327.1" y="350.8" text-anchor="middle" class="n">40</text>
<text x="359.1" y="350.8" text-anchor="middle" class="n">45</text>
<text x="391.2" y="350.8" text-anchor="middle" class="n">50</text>
<text x="423.2" y="350.8" text-anchor="middle" class="n">55</text>
<text x="59.7" y="332.2" text-anchor="end" class="ny">0</text>
<text x="59.7" y="284.7" text-anchor="end" class="ny">20</text>
<text x="59.7" y="237.2" text-anchor="end" class="ny">40</text>
<text x="59.7" y="189.8" text-anchor="end" class="ny">60</text>
<text x="59.7" y="142.3" text-anchor="end" class="ny">80</text>
<text x="59.7" y="94.8" text-anchor="end" class="ny">100</text>
<text x="59.7" y="47.3" text-anchor="end" class="ny">120</text>
<text x="252.7" y="381.6" text-anchor="middle" class="t">Dose (Gy)</text>
<line x1="515.7" y1="41.4" x2="880.2" y2="41.4" stroke="#000" stroke-width="1.3"/>
<line x1="515.7" y1="325.3" x2="880.2" y2="325.3" stroke="#000" stroke-width="1.3"/>
<line x1="521.7" y1="35.4" x2="521.7" y2="331.3" stroke="#000" stroke-width="1.3"/>
<line x1="874.2" y1="35.4" x2="874.2" y2="331.3" stroke="#000" stroke-width="1.3"/>
<line x1="528.1" y1="325.3" x2="528.1" y2="328.3" stroke="#000" stroke-width="1.3"/>
<line x1="528.1" y1="41.4" x2="528.1" y2="38.4" stroke="#000" stroke-width="1.3"/>
<line x1="534.5" y1="325.3" x2="534.5" y2="328.3" stroke="#000" stroke-width="1.3"/>
<line x1="534.5" y1="41.4" x2="534.5" y2="38.4" stroke="#000" stroke-width="1.3"/>
<line x1="540.9" y1="325.3" x2="540.9" y2="328.3" stroke="#000" stroke-width="1.3"/>
<line x1="540.9" y1="41.4" x2="540.9" y2="38.4" stroke="#000" stroke-width="1.3"/>
<line x1="547.3" y1="325.3" x2="547.3" y2="328.3" stroke="#000" stroke-width="1.3"/>
<line x1="547.3" y1="41.4" x2="547.3" y2="38.4" stroke="#000" stroke-width="1.3"/>
<line x1="553.8" y1="325.3" x2="553.8" y2="331.3" stroke="#000" stroke-width="1.3"/>
<line x1="553.8" y1="41.4" x2="553.8" y2="35.4" stroke="#000" stroke-width="1.3"/>
<line x1="560.2" y1="325.3" x2="560.2" y2="328.3" stroke="#000" stroke-width="1.3"/>
<line x1="560.2" y1="41.4" x2="560.2" y2="38.4" stroke="#000" stroke-width="1.3"/>
<line x1="566.6" y1="325.3" x2="566.6" y2="328.3" stroke="#000" stroke-width="1.3"/>
<line x1="566.6" y1="41.4" x2="566.6" y2="38.4" stroke="#000" stroke-width="1.3"/>
<line x1="573.0" y1="325.3" x2="573.0" y2="328.3" stroke="#000" stroke-width="1.3"/>
<line x1="573.0" y1="41.4" x2="573.0" y2="38.4" stroke="#000" stroke-width="1.3"/>
<line x1="579.4" y1="325.3" x2="579.4" y2="328.3" stroke="#000" stroke-width="1.3"/>
<line x1="579.4" y1="41.4" x2="579.4" y2="38.4" stroke="#000" stroke-width="1.3"/>
<line x1="585.8" y1="325.3" x2="585.8" y2="331.3" stroke="#000" stroke-width="1.3"/>
<line x1="585.8" y1="41.4" x2="585.8" y2="35.4" stroke="#000" stroke-width="1.3"/>
<line x1="592.2" y1="325.3" x2="592.2" y2="328.3" stroke="#000" stroke-width="1.3"/>
<line x1="592.2" y1="41.4" x2="592.2" y2="38.4" stroke="#000" stroke-width="1.3"/>
<line x1="598.6" y1="325.3" x2="598.6" y2="328.3" stroke="#000" stroke-width="1.3"/>
<line x1="598.6" y1="41.4" x2="598.6" y2="38.4" stroke="#000" stroke-width="1.3"/>
<line x1="605.0" y1="325.3" x2="605.0" y2="328.3" stroke="#000" stroke-width="1.3"/>
<line x1="605.0" y1="41.4" x2="605.0" y2="38.4" stroke="#000" stroke-width="1.3"/>
<line x1="611.4" y1="325.3" x2="611.4" y2="328.3" stroke="#000" stroke-width="1.3"/>
<line x1="611.4" y1="41.4" x2="611.4" y2="38.4" stroke="#000" stroke-width="1.3"/>
<line x1="617.9" y1="325.3" x2="617.9" y2="331.3" stroke="#000" stroke-width="1.3"/>
<line x1="617.9" y1="41.4" x2="617.9" y2="35.4" stroke="#000" stroke-width="1.3"/>
<line x1="624.3" y1="325.3" x2="624.3" y2="328.3" stroke="#000" stroke-width="1.3"/>
<line x1="624.3" y1="41.4" x2="624.3" y2="38.4" stroke="#000" stroke-width="1.3"/>
<line x1="630.7" y1="325.3" x2="630.7" y2="328.3" stroke="#000" stroke-width="1.3"/>
<line x1="630.7" y1="41.4" x2="630.7" y2="38.4" stroke="#000" stroke-width="1.3"/>
<line x1="637.1" y1="325.3" x2="637.1" y2="328.3" stroke="#000" stroke-width="1.3"/>
<line x1="637.1" y1="41.4" x2="637.1" y2="38.4" stroke="#000" stroke-width="1.3"/>
<line x1="643.5" y1="325.3" x2="643.5" y2="328.3" stroke="#000" stroke-width="1.3"/>
<line x1="643.5" y1="41.4" x2="643.5" y2="38.4" stroke="#000" stroke-width="1.3"/>
<line x1="649.9" y1="325.3" x2="649.9" y2="331.3" stroke="#000" stroke-width="1.3"/>
<line x1="649.9" y1="41.4" x2="649.9" y2="35.4" stroke="#000" stroke-width="1.3"/>
<line x1="656.3" y1="325.3" x2="656.3" y2="328.3" stroke="#000" stroke-width="1.3"/>
<line x1="656.3" y1="41.4" x2="656.3" y2="38.4" stroke="#000" stroke-width="1.3"/>
<line x1="662.7" y1="325.3" x2="662.7" y2="328.3" stroke="#000" stroke-width="1.3"/>
<line x1="662.7" y1="41.4" x2="662.7" y2="38.4" stroke="#000" stroke-width="1.3"/>
<line x1="669.1" y1="325.3" x2="669.1" y2="328.3" stroke="#000" stroke-width="1.3"/>
<line x1="669.1" y1="41.4" x2="669.1" y2="38.4" stroke="#000" stroke-width="1.3"/>
<line x1="675.5" y1="325.3" x2="675.5" y2="328.3" stroke="#000" stroke-width="1.3"/>
<line x1="675.5" y1="41.4" x2="675.5" y2="38.4" stroke="#000" stroke-width="1.3"/>
<line x1="682.0" y1="325.3" x2="682.0" y2="331.3" stroke="#000" stroke-width="1.3"/>
<line x1="682.0" y1="41.4" x2="682.0" y2="35.4" stroke="#000" stroke-width="1.3"/>
<line x1="688.4" y1="325.3" x2="688.4" y2="328.3" stroke="#000" stroke-width="1.3"/>
<line x1="688.4" y1="41.4" x2="688.4" y2="38.4" stroke="#000" stroke-width="1.3"/>
<line x1="694.8" y1="325.3" x2="694.8" y2="328.3" stroke="#000" stroke-width="1.3"/>
<line x1="694.8" y1="41.4" x2="694.8" y2="38.4" stroke="#000" stroke-width="1.3"/>
<line x1="701.2" y1="325.3" x2="701.2" y2="328.3" stroke="#000" stroke-width="1.3"/>
<line x1="701.2" y1="41.4" x2="701.2" y2="38.4" stroke="#000" stroke-width="1.3"/>
<line x1="707.6" y1="325.3" x2="707.6" y2="328.3" stroke="#000" stroke-width="1.3"/>
<line x1="707.6" y1="41.4" x2="707.6" y2="38.4" stroke="#000" stroke-width="1.3"/>
<line x1="714.0" y1="325.3" x2="714.0" y2="331.3" stroke="#000" stroke-width="1.3"/>
<line x1="714.0" y1="41.4" x2="714.0" y2="35.4" stroke="#000" stroke-width="1.3"/>
<line x1="720.4" y1="325.3" x2="720.4" y2="328.3" stroke="#000" stroke-width="1.3"/>
<line x1="720.4" y1="41.4" x2="720.4" y2="38.4" stroke="#000" stroke-width="1.3"/>
<line x1="726.8" y1="325.3" x2="726.8" y2="328.3" stroke="#000" stroke-width="1.3"/>
<line x1="726.8" y1="41.4" x2="726.8" y2="38.4" stroke="#000" stroke-width="1.3"/>
<line x1="733.2" y1="325.3" x2="733.2" y2="328.3" stroke="#000" stroke-width="1.3"/>
<line x1="733.2" y1="41.4" x2="733.2" y2="38.4" stroke="#000" stroke-width="1.3"/>
<line x1="739.6" y1="325.3" x2="739.6" y2="328.3" stroke="#000" stroke-width="1.3"/>
<line x1="739.6" y1="41.4" x2="739.6" y2="38.4" stroke="#000" stroke-width="1.3"/>
<line x1="746.1" y1="325.3" x2="746.1" y2="331.3" stroke="#000" stroke-width="1.3"/>
<line x1="746.1" y1="41.4" x2="746.1" y2="35.4" stroke="#000" stroke-width="1.3"/>
<line x1="752.5" y1="325.3" x2="752.5" y2="328.3" stroke="#000" stroke-width="1.3"/>
<line x1="752.5" y1="41.4" x2="752.5" y2="38.4" stroke="#000" stroke-width="1.3"/>
<line x1="758.9" y1="325.3" x2="758.9" y2="328.3" stroke="#000" stroke-width="1.3"/>
<line x1="758.9" y1="41.4" x2="758.9" y2="38.4" stroke="#000" stroke-width="1.3"/>
<line x1="765.3" y1="325.3" x2="765.3" y2="328.3" stroke="#000" stroke-width="1.3"/>
<line x1="765.3" y1="41.4" x2="765.3" y2="38.4" stroke="#000" stroke-width="1.3"/>
<line x1="771.7" y1="325.3" x2="771.7" y2="328.3" stroke="#000" stroke-width="1.3"/>
<line x1="771.7" y1="41.4" x2="771.7" y2="38.4" stroke="#000" stroke-width="1.3"/>
<line x1="778.1" y1="325.3" x2="778.1" y2="331.3" stroke="#000" stroke-width="1.3"/>
<line x1="778.1" y1="41.4" x2="778.1" y2="35.4" stroke="#000" stroke-width="1.3"/>
<line x1="784.5" y1="325.3" x2="784.5" y2="328.3" stroke="#000" stroke-width="1.3"/>
<line x1="784.5" y1="41.4" x2="784.5" y2="38.4" stroke="#000" stroke-width="1.3"/>
<line x1="790.9" y1="325.3" x2="790.9" y2="328.3" stroke="#000" stroke-width="1.3"/>
<line x1="790.9" y1="41.4" x2="790.9" y2="38.4" stroke="#000" stroke-width="1.3"/>
<line x1="797.3" y1="325.3" x2="797.3" y2="328.3" stroke="#000" stroke-width="1.3"/>
<line x1="797.3" y1="41.4" x2="797.3" y2="38.4" stroke="#000" stroke-width="1.3"/>
<line x1="803.7" y1="325.3" x2="803.7" y2="328.3" stroke="#000" stroke-width="1.3"/>
<line x1="803.7" y1="41.4" x2="803.7" y2="38.4" stroke="#000" stroke-width="1.3"/>
<line x1="810.2" y1="325.3" x2="810.2" y2="331.3" stroke="#000" stroke-width="1.3"/>
<line x1="810.2" y1="41.4" x2="810.2" y2="35.4" stroke="#000" stroke-width="1.3"/>
<line x1="816.6" y1="325.3" x2="816.6" y2="328.3" stroke="#000" stroke-width="1.3"/>
<line x1="816.6" y1="41.4" x2="816.6" y2="38.4" stroke="#000" stroke-width="1.3"/>
<line x1="823.0" y1="325.3" x2="823.0" y2="328.3" stroke="#000" stroke-width="1.3"/>
<line x1="823.0" y1="41.4" x2="823.0" y2="38.4" stroke="#000" stroke-width="1.3"/>
<line x1="829.4" y1="325.3" x2="829.4" y2="328.3" stroke="#000" stroke-width="1.3"/>
<line x1="829.4" y1="41.4" x2="829.4" y2="38.4" stroke="#000" stroke-width="1.3"/>
<line x1="835.8" y1="325.3" x2="835.8" y2="328.3" stroke="#000" stroke-width="1.3"/>
<line x1="835.8" y1="41.4" x2="835.8" y2="38.4" stroke="#000" stroke-width="1.3"/>
<line x1="842.2" y1="325.3" x2="842.2" y2="331.3" stroke="#000" stroke-width="1.3"/>
<line x1="842.2" y1="41.4" x2="842.2" y2="35.4" stroke="#000" stroke-width="1.3"/>
<line x1="848.6" y1="325.3" x2="848.6" y2="328.3" stroke="#000" stroke-width="1.3"/>
<line x1="848.6" y1="41.4" x2="848.6" y2="38.4" stroke="#000" stroke-width="1.3"/>
<line x1="855.0" y1="325.3" x2="855.0" y2="328.3" stroke="#000" stroke-width="1.3"/>
<line x1="855.0" y1="41.4" x2="855.0" y2="38.4" stroke="#000" stroke-width="1.3"/>
<line x1="861.4" y1="325.3" x2="861.4" y2="328.3" stroke="#000" stroke-width="1.3"/>
<line x1="861.4" y1="41.4" x2="861.4" y2="38.4" stroke="#000" stroke-width="1.3"/>
<line x1="867.8" y1="325.3" x2="867.8" y2="328.3" stroke="#000" stroke-width="1.3"/>
<line x1="867.8" y1="41.4" x2="867.8" y2="38.4" stroke="#000" stroke-width="1.3"/>
<line x1="521.7" y1="315.8" x2="518.7" y2="315.8" stroke="#000" stroke-width="1.3"/>
<line x1="874.2" y1="315.8" x2="877.2" y2="315.8" stroke="#000" stroke-width="1.3"/>
<line x1="521.7" y1="306.4" x2="518.7" y2="306.4" stroke="#000" stroke-width="1.3"/>
<line x1="874.2" y1="306.4" x2="877.2" y2="306.4" stroke="#000" stroke-width="1.3"/>
<line x1="521.7" y1="296.9" x2="518.7" y2="296.9" stroke="#000" stroke-width="1.3"/>
<line x1="874.2" y1="296.9" x2="877.2" y2="296.9" stroke="#000" stroke-width="1.3"/>
<line x1="521.7" y1="287.4" x2="518.7" y2="287.4" stroke="#000" stroke-width="1.3"/>
<line x1="874.2" y1="287.4" x2="877.2" y2="287.4" stroke="#000" stroke-width="1.3"/>
<line x1="521.7" y1="278.0" x2="515.7" y2="278.0" stroke="#000" stroke-width="1.3"/>
<line x1="874.2" y1="278.0" x2="880.2" y2="278.0" stroke="#000" stroke-width="1.3"/>
<line x1="521.7" y1="268.5" x2="518.7" y2="268.5" stroke="#000" stroke-width="1.3"/>
<line x1="874.2" y1="268.5" x2="877.2" y2="268.5" stroke="#000" stroke-width="1.3"/>
<line x1="521.7" y1="259.1" x2="518.7" y2="259.1" stroke="#000" stroke-width="1.3"/>
<line x1="874.2" y1="259.1" x2="877.2" y2="259.1" stroke="#000" stroke-width="1.3"/>
<line x1="521.7" y1="249.6" x2="518.7" y2="249.6" stroke="#000" stroke-width="1.3"/>
<line x1="874.2" y1="249.6" x2="877.2" y2="249.6" stroke="#000" stroke-width="1.3"/>
<line x1="521.7" y1="240.1" x2="518.7" y2="240.1" stroke="#000" stroke-width="1.3"/>
<line x1="874.2" y1="240.1" x2="877.2" y2="240.1" stroke="#000" stroke-width="1.3"/>
<line x1="521.7" y1="230.7" x2="515.7" y2="230.7" stroke="#000" stroke-width="1.3"/>
<line x1="874.2" y1="230.7" x2="880.2" y2="230.7" stroke="#000" stroke-width="1.3"/>
<line x1="521.7" y1="221.2" x2="518.7" y2="221.2" stroke="#000" stroke-width="1.3"/>
<line x1="874.2" y1="221.2" x2="877.2" y2="221.2" stroke="#000" stroke-width="1.3"/>
<line x1="521.7" y1="211.7" x2="518.7" y2="211.7" stroke="#000" stroke-width="1.3"/>
<line x1="874.2" y1="211.7" x2="877.2" y2="211.7" stroke="#000" stroke-width="1.3"/>
<line x1="521.7" y1="202.3" x2="518.7" y2="202.3" stroke="#000" stroke-width="1.3"/>
<line x1="874.2" y1="202.3" x2="877.2" y2="202.3" stroke="#000" stroke-width="1.3"/>
<line x1="521.7" y1="192.8" x2="518.7" y2="192.8" stroke="#000" stroke-width="1.3"/>
<line x1="874.2" y1="192.8" x2="877.2" y2="192.8" stroke="#000" stroke-width="1.3"/>
<line x1="521.7" y1="183.3" x2="515.7" y2="183.3" stroke="#000" stroke-width="1.3"/>
<line x1="874.2" y1="183.3" x2="880.2" y2="183.3" stroke="#000" stroke-width="1.3"/>
<line x1="521.7" y1="173.9" x2="518.7" y2="173.9" stroke="#000" stroke-width="1.3"/>
<line x1="874.2" y1="173.9" x2="877.2" y2="173.9" stroke="#000" stroke-width="1.3"/>
<line x1="521.7" y1="164.4" x2="518.7" y2="164.4" stroke="#000" stroke-width="1.3"/>
<line x1="874.2" y1="164.4" x2="877.2" y2="164.4" stroke="#000" stroke-width="1.3"/>
<line x1="521.7" y1="155.0" x2="518.7" y2="155.0" stroke="#000" stroke-width="1.3"/>
<line x1="874.2" y1="155.0" x2="877.2" y2="155.0" stroke="#000" stroke-width="1.3"/>
<line x1="521.7" y1="145.5" x2="518.7" y2="145.5" stroke="#000" stroke-width="1.3"/>
<line x1="874.2" y1="145.5" x2="877.2" y2="145.5" stroke="#000" stroke-width="1.3"/>
<line x1="521.7" y1="136.0" x2="515.7" y2="136.0" stroke="#000" stroke-width="1.3"/>
<line x1="874.2" y1="136.0" x2="880.2" y2="136.0" stroke="#000" stroke-width="1.3"/>
<line x1="521.7" y1="126.6" x2="518.7" y2="126.6" stroke="#000" stroke-width="1.3"/>
<line x1="874.2" y1="126.6" x2="877.2" y2="126.6" stroke="#000" stroke-width="1.3"/>
<line x1="521.7" y1="117.1" x2="518.7" y2="117.1" stroke="#000" stroke-width="1.3"/>
<line x1="874.2" y1="117.1" x2="877.2" y2="117.1" stroke="#000" stroke-width="1.3"/>
<line x1="521.7" y1="107.6" x2="518.7" y2="107.6" stroke="#000" stroke-width="1.3"/>
<line x1="874.2" y1="107.6" x2="877.2" y2="107.6" stroke="#000" stroke-width="1.3"/>
<line x1="521.7" y1="98.2" x2="518.7" y2="98.2" stroke="#000" stroke-width="1.3"/>
<line x1="874.2" y1="98.2" x2="877.2" y2="98.2" stroke="#000" stroke-width="1.3"/>
<line x1="521.7" y1="88.7" x2="515.7" y2="88.7" stroke="#000" stroke-width="1.3"/>
<line x1="874.2" y1="88.7" x2="880.2" y2="88.7" stroke="#000" stroke-width="1.3"/>
<line x1="521.7" y1="79.3" x2="518.7" y2="79.3" stroke="#000" stroke-width="1.3"/>
<line x1="874.2" y1="79.3" x2="877.2" y2="79.3" stroke="#000" stroke-width="1.3"/>
<line x1="521.7" y1="69.8" x2="518.7" y2="69.8" stroke="#000" stroke-width="1.3"/>
<line x1="874.2" y1="69.8" x2="877.2" y2="69.8" stroke="#000" stroke-width="1.3"/>
<line x1="521.7" y1="60.3" x2="518.7" y2="60.3" stroke="#000" stroke-width="1.3"/>
<line x1="874.2" y1="60.3" x2="877.2" y2="60.3" stroke="#000" stroke-width="1.3"/>
<line x1="521.7" y1="50.9" x2="518.7" y2="50.9" stroke="#000" stroke-width="1.3"/>
<line x1="874.2" y1="50.9" x2="877.2" y2="50.9" stroke="#000" stroke-width="1.3"/>
<text x="521.4" y="350.8" text-anchor="middle" class="n">0</text>
<text x="553.5" y="350.8" text-anchor="middle" class="n">5</text>
<text x="585.5" y="350.8" text-anchor="middle" class="n">10</text>
<text x="617.6" y="350.8" text-anchor="middle" class="n">15</text>
<text x="649.6" y="350.8" text-anchor="middle" class="n">20</text>
<text x="681.7" y="350.8" text-anchor="middle" class="n">25</text>
<text x="713.7" y="350.8" text-anchor="middle" class="n">30</text>
<text x="745.8" y="350.8" text-anchor="middle" class="n">35</text>
<text x="777.8" y="350.8" text-anchor="middle" class="n">40</text>
<text x="809.9" y="350.8" text-anchor="middle" class="n">45</text>
<text x="841.9" y="350.8" text-anchor="middle" class="n">50</text>
<text x="874.0" y="350.8" text-anchor="middle" class="n">55</text>
<text x="510.4" y="332.2" text-anchor="end" class="ny">0</text>
<text x="510.4" y="284.7" text-anchor="end" class="ny">20</text>
<text x="510.4" y="237.2" text-anchor="end" class="ny">40</text>
<text x="510.4" y="189.8" text-anchor="end" class="ny">60</text>
<text x="510.4" y="142.3" text-anchor="end" class="ny">80</text>
<text x="510.4" y="94.8" text-anchor="end" class="ny">100</text>
<text x="510.4" y="47.3" text-anchor="end" class="ny">120</text>
<text x="701.9" y="381.1" text-anchor="middle" class="t">Dose (Gy)</text>
<text x="393" y="62.3" text-anchor="end" class="s" textLength="200.0" lengthAdjust="spacingAndGlyphs">Left Femur PO: Solid Lines</text>
<text x="393" y="81.3" text-anchor="end" class="s" textLength="226.2" lengthAdjust="spacingAndGlyphs">Right Femur PO: Broken Lines</text>
<text x="842.4" y="63.3" text-anchor="end" class="s" textLength="211.8" lengthAdjust="spacingAndGlyphs">Left Femur PRO: Solid Lines</text>
<text x="842.4" y="82.7" text-anchor="end" class="s" textLength="238.7" lengthAdjust="spacingAndGlyphs">Right Femur PRO: Broken Lines</text>
</svg>
</body></html>
